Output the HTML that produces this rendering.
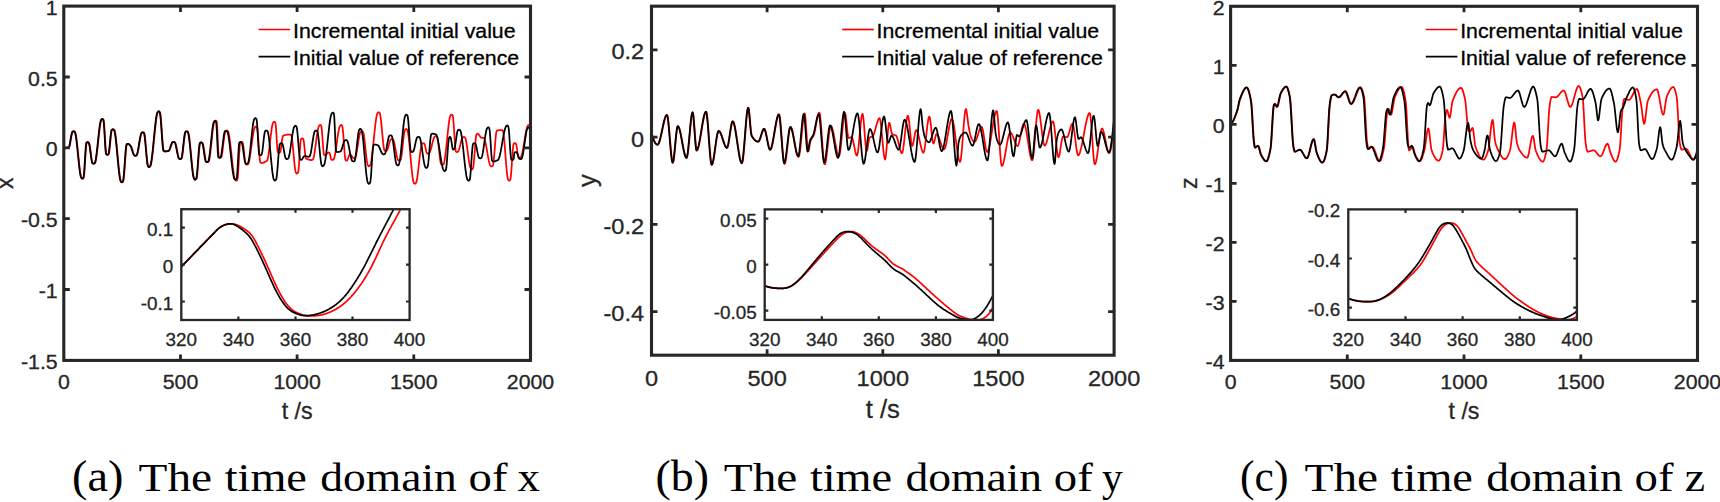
<!DOCTYPE html>
<html lang="en"><head><meta charset="utf-8">
<style>html,body{margin:0;padding:0;background:#fff;overflow:hidden}svg{display:block}.t{font-family:"Liberation Sans",sans-serif;fill:#262626;stroke:#262626;stroke-width:0.3px}.c{font-family:"Liberation Serif",serif;fill:#000}</style></head><body>
<svg width="1720" height="502" viewBox="0 0 1720 502">
<rect width="1720" height="502" fill="#fff"/>
<clipPath id="clipp1"><rect x="63.8" y="6.1" width="466.7" height="354.3"/></clipPath>
<g clip-path="url(#clipp1)" fill="none" stroke-width="1.75" stroke-linejoin="round" stroke-linecap="butt">
<path d="M63.8,147.8 64.3,147.8 64.8,147.8 65.3,147.8 65.8,147.8 66.3,147.8 66.8,147.7 67.3,147.7 67.8,147.7 68.3,147.6 68.8,147.6 69.3,147.1 69.8,145.4 70.3,142.9 70.8,139.9 71.3,137.0 71.8,134.3 72.3,132.4 72.8,131.7 73.3,131.4 73.8,131.3 74.3,131.4 74.8,131.7 75.3,132.4 75.8,134.4 76.3,137.3 76.8,141.1 77.3,145.5 77.8,150.2 78.3,155.2 78.8,160.1 79.3,164.9 79.8,169.2 80.3,172.8 80.8,175.6 81.3,177.4 81.8,178.1 82.3,178.6 82.8,178.7 83.3,178.3 83.8,177.5 84.3,173.6 84.8,166.6 85.3,158.2 85.8,150.3 86.3,144.5 86.8,142.6 87.3,142.3 87.8,142.2 88.3,142.3 88.8,142.6 89.3,143.5 89.8,145.8 90.3,149.1 90.8,152.9 91.3,156.8 91.8,160.1 92.3,162.4 92.8,163.3 93.3,163.6 93.8,163.7 94.3,163.6 94.8,163.3 95.3,162.6 95.8,160.7 96.3,157.8 96.8,154.2 97.3,150.0 97.8,145.4 98.3,140.7 98.8,135.9 99.3,131.5 99.8,127.4 100.3,124.0 100.8,121.5 101.3,120.0 101.8,119.4 102.3,118.9 102.8,119.0 103.3,119.4 103.8,120.6 104.3,125.7 104.8,133.8 105.3,142.7 105.8,150.2 106.3,154.2 106.8,154.6 107.3,154.8 107.8,154.8 108.3,154.5 108.8,154.0 109.3,151.4 109.8,147.2 110.3,142.1 110.8,136.9 111.3,132.7 111.8,130.1 112.3,129.6 112.8,129.3 113.3,129.3 113.8,129.5 114.3,129.8 114.8,131.1 115.3,133.7 115.8,137.2 116.3,141.5 116.8,146.4 117.3,151.7 117.8,157.2 118.3,162.5 118.8,167.6 119.3,172.2 119.8,176.1 120.3,179.1 120.8,181.0 121.3,181.7 121.8,182.2 122.3,182.3 122.8,181.9 123.3,181.1 123.8,178.2 124.3,172.9 124.8,166.1 125.3,158.9 125.8,152.2 126.3,147.0 126.8,144.4 127.3,144.0 127.8,143.8 128.3,143.8 128.8,144.0 129.3,144.4 129.8,144.9 130.3,145.4 130.8,146.0 131.3,146.9 131.8,148.2 132.3,149.8 132.8,151.4 133.3,153.0 133.8,154.3 134.3,155.2 134.8,155.5 135.3,155.8 135.8,155.8 136.3,155.6 136.8,155.3 137.3,154.3 137.8,152.4 138.3,150.0 138.8,147.1 139.3,144.1 139.8,141.0 140.3,138.1 140.8,135.7 141.3,133.8 141.8,132.8 142.3,132.5 142.8,132.3 143.3,132.3 143.8,132.6 144.3,133.1 144.8,135.5 145.3,139.7 145.8,145.0 146.3,150.9 146.8,156.5 147.3,161.4 147.8,164.8 148.3,166.3 148.8,166.9 149.3,167.1 149.8,166.8 150.3,166.3 150.8,165.3 151.3,163.2 151.8,160.2 152.3,156.4 152.8,152.1 153.3,147.3 153.8,142.3 154.3,137.1 154.8,132.1 155.3,127.2 155.8,122.8 156.3,118.9 156.8,115.8 157.3,113.5 157.8,112.2 158.3,111.6 158.8,111.3 159.3,111.5 159.8,112.0 160.3,113.3 160.8,117.3 161.3,123.3 161.8,130.5 162.3,137.7 162.8,144.2 163.3,148.9 163.8,151.0 164.3,151.2 164.8,151.4 165.3,151.4 165.8,151.4 166.3,151.3 166.8,151.3 167.3,151.2 167.8,151.1 168.3,151.0 168.8,150.8 169.3,150.5 169.8,149.5 170.3,148.2 170.8,146.7 171.3,145.1 171.8,143.7 172.3,142.7 172.8,142.2 173.3,141.9 173.8,141.8 174.3,141.9 174.8,142.2 175.3,142.8 175.8,144.3 176.3,146.4 176.8,148.9 177.3,151.5 177.8,154.0 178.3,156.2 178.8,157.8 179.3,158.7 179.8,158.9 180.3,159.1 180.8,159.0 181.3,158.8 181.8,158.1 182.3,155.8 182.8,152.3 183.3,148.0 183.8,143.3 184.3,138.9 184.8,135.2 185.3,132.6 185.8,131.7 186.3,131.4 186.8,131.3 187.3,131.4 187.8,131.7 188.3,132.5 188.8,134.6 189.3,137.7 189.8,141.8 190.3,146.5 190.8,151.6 191.3,156.8 191.8,162.0 192.3,166.9 192.8,171.2 193.3,174.8 193.8,177.4 194.3,178.8 194.8,179.4 195.3,179.7 195.8,179.5 196.3,179.0 196.8,177.8 197.3,174.0 197.8,168.3 198.3,161.7 198.8,154.9 199.3,148.9 199.8,144.6 200.3,142.8 200.8,142.5 201.3,142.4 201.8,142.5 202.3,142.7 202.8,143.4 203.3,145.3 203.8,148.2 204.3,151.5 204.8,155.0 205.3,158.2 205.8,160.5 206.3,161.8 206.8,162.1 207.3,162.2 207.8,162.2 208.3,161.9 208.8,161.4 209.3,159.7 209.8,156.9 210.3,153.1 210.8,148.8 211.3,144.0 211.8,139.1 212.3,134.4 212.8,130.0 213.3,126.2 213.8,123.4 214.3,121.7 214.8,121.0 215.3,120.5 215.8,120.5 216.3,120.9 216.8,122.1 217.3,129.2 217.8,140.3 218.3,151.1 218.8,157.2 219.3,157.7 219.8,157.9 220.3,157.9 220.8,157.6 221.3,157.2 221.8,155.4 222.3,152.5 222.8,148.7 223.3,144.5 223.8,140.3 224.3,136.4 224.8,133.3 225.3,131.4 225.8,130.8 226.3,130.5 226.8,130.5 227.3,130.6 227.8,130.9 228.3,131.9 228.8,133.8 229.3,136.5 229.8,140.0 230.3,144.0 230.8,148.4 231.3,153.0 231.8,157.7 232.3,162.3 232.8,166.7 233.3,170.7 233.8,174.2 234.3,177.0 234.8,179.0 235.3,179.9 235.8,180.5 236.3,180.8 236.8,180.5 237.3,179.9 237.8,177.4 238.3,170.5 238.8,161.3 239.3,152.0 239.8,144.9 240.3,142.2 240.8,141.9 241.3,141.8 241.8,141.9 242.3,142.1 242.8,143.0 243.3,145.9 243.8,150.1 244.3,154.8 244.8,159.3 245.3,162.6 245.8,164.2 246.3,164.4 246.8,164.6 247.3,164.5 247.8,164.3 248.3,163.8 248.8,162.5 249.3,160.4 249.8,157.6 250.3,154.4 250.8,150.9 251.3,147.1 251.8,143.3 252.3,139.6 252.8,136.1 253.3,133.0 253.8,130.4 254.3,128.5 254.8,127.5 255.3,126.9 255.8,126.5 256.3,126.7 256.8,127.2 257.3,128.6 257.8,132.9 258.3,139.4 258.8,146.8 259.3,153.9 259.8,159.5 260.3,162.4 260.8,162.8 261.3,163.0 261.8,163.0 262.3,162.9 262.8,162.9 263.3,162.7 263.8,162.6 264.3,162.4 264.8,162.1 265.3,161.8 265.8,161.5 266.3,161.2 266.8,160.9 267.3,160.2 267.8,158.6 268.3,155.9 268.8,152.5 269.3,148.6 269.8,144.3 270.3,139.9 270.8,135.5 271.3,131.5 271.8,128.0 272.3,125.2 272.8,123.3 273.3,122.4 273.8,121.9 274.3,121.7 274.8,122.0 275.3,122.7 275.8,125.9 276.3,132.8 276.8,141.0 277.3,148.2 277.8,152.2 278.3,152.6 278.8,152.8 279.3,152.8 279.8,152.5 280.3,152.0 280.8,149.7 281.3,146.0 281.8,141.9 282.3,138.3 282.8,136.1 283.3,135.7 283.8,135.5 284.3,135.3 284.8,135.2 285.3,135.0 285.8,134.9 286.3,134.8 286.8,134.7 287.3,134.7 287.8,134.6 288.3,134.6 288.8,134.5 289.3,134.5 289.8,134.5 290.3,134.5 290.8,134.8 291.3,135.2 291.8,137.3 292.3,141.0 292.8,145.7 293.3,151.1 293.8,156.7 294.3,162.1 294.8,166.8 295.3,170.4 295.8,172.4 296.3,173.1 296.8,173.5 297.3,173.4 297.8,172.9 298.3,171.9 298.8,167.1 299.3,159.6 299.8,151.3 300.3,143.9 300.8,139.4 301.3,138.7 301.8,138.4 302.3,138.4 302.8,138.6 303.3,139.0 303.8,141.4 304.3,145.7 304.8,150.7 305.3,155.3 305.8,158.1 306.3,158.7 306.8,158.9 307.3,159.1 307.8,159.3 308.3,159.5 308.8,159.6 309.3,159.8 309.8,159.9 310.3,159.9 310.8,160.0 311.3,160.0 311.8,160.0 312.3,159.8 312.8,159.6 313.3,158.7 313.8,156.9 314.3,154.4 314.8,151.3 315.3,147.7 315.8,144.0 316.3,140.1 316.8,136.4 317.3,133.0 317.8,130.0 318.3,127.7 318.8,126.2 319.3,125.5 319.8,125.0 320.3,124.9 320.8,125.3 321.3,126.1 321.8,129.5 322.3,135.7 322.8,142.9 323.3,149.5 323.8,154.0 324.3,155.2 324.8,155.4 325.3,155.5 325.8,155.2 326.3,154.7 326.8,154.0 327.3,153.3 327.8,152.8 328.3,152.5 328.8,152.6 329.3,152.8 329.8,153.6 330.3,155.7 330.8,158.2 331.3,159.6 331.8,159.8 332.3,160.0 332.8,159.9 333.3,159.7 333.8,159.2 334.3,157.9 334.8,155.8 335.3,153.1 335.8,149.9 336.3,146.5 336.8,142.9 337.3,139.2 337.8,135.7 338.3,132.5 338.8,129.8 339.3,127.6 339.8,126.2 340.3,125.5 340.8,125.0 341.3,124.9 341.8,125.3 342.3,126.1 342.8,129.2 343.3,134.9 343.8,141.9 344.3,149.1 344.8,155.3 345.3,159.4 345.8,160.4 346.3,160.6 346.8,160.7 347.3,160.1 347.8,159.0 348.3,157.5 348.8,156.1 349.3,155.0 349.8,154.4 350.3,154.5 350.8,154.9 351.3,155.5 351.8,156.2 352.3,156.9 352.8,157.6 353.3,158.1 353.8,158.3 354.3,158.2 354.8,158.0 355.3,157.5 355.8,156.1 356.3,154.1 356.8,151.4 357.3,148.4 357.8,145.1 358.3,141.9 358.8,138.8 359.3,136.0 359.8,133.8 360.3,132.3 360.8,131.7 361.3,131.4 361.8,131.3 362.3,131.4 362.8,131.7 363.3,132.5 363.8,134.8 364.3,138.3 364.8,142.5 365.3,147.2 365.8,152.0 366.3,156.5 366.8,160.4 367.3,163.4 367.8,165.2 368.3,165.8 368.8,166.3 369.3,166.2 369.8,165.7 370.3,165.0 370.8,163.4 371.3,160.8 371.8,157.4 372.3,153.4 372.8,149.0 373.3,144.2 373.8,139.3 374.3,134.3 374.8,129.5 375.3,125.1 375.8,121.1 376.3,117.7 376.8,115.1 377.3,113.5 377.8,112.8 378.3,112.3 378.8,112.2 379.3,112.6 379.8,113.3 380.3,115.3 380.8,118.7 381.3,123.2 381.8,128.4 382.3,133.9 382.8,139.2 383.3,143.9 383.8,147.7 384.3,150.0 384.8,150.7 385.3,150.9 385.8,151.0 386.3,150.8 386.8,150.6 387.3,149.9 387.8,148.6 388.3,146.9 388.8,145.0 389.3,143.1 389.8,141.4 390.3,140.1 390.8,139.4 391.3,139.2 391.8,139.0 392.3,139.1 392.8,139.3 393.3,139.8 393.8,141.1 394.3,143.0 394.8,145.4 395.3,148.2 395.8,151.0 396.3,153.7 396.8,156.2 397.3,158.3 397.8,159.7 398.3,160.3 398.8,160.6 399.3,160.7 399.8,160.6 400.3,160.3 400.8,159.4 401.3,157.0 401.8,153.5 402.3,149.2 402.8,144.5 403.3,139.9 403.8,135.7 404.3,132.4 404.8,130.3 405.3,129.5 405.8,129.0 406.3,128.9 406.8,129.4 407.3,130.0 407.8,131.7 408.3,134.6 408.8,138.5 409.3,143.2 409.8,148.5 410.3,154.1 410.8,159.8 411.3,165.3 411.8,170.5 412.3,175.1 412.8,178.8 413.3,181.5 413.8,182.9 414.3,183.5 414.8,183.8 415.3,183.6 415.8,183.1 416.3,182.2 416.8,180.3 417.3,177.4 417.8,173.7 418.3,169.5 418.8,165.0 419.3,160.5 419.8,156.0 420.3,152.0 420.8,148.5 421.3,145.8 421.8,144.1 422.3,143.5 422.8,143.3 423.3,143.2 423.8,143.4 424.3,143.6 424.8,144.7 425.3,146.9 425.8,149.4 426.3,151.7 426.8,153.0 427.3,153.4 427.8,153.6 428.3,153.6 428.8,153.3 429.3,153.0 429.8,152.2 430.3,150.9 430.8,149.3 431.3,147.5 431.8,145.5 432.3,143.4 432.8,141.5 433.3,139.7 433.8,138.2 434.3,137.1 434.8,136.5 435.3,136.3 435.8,136.1 436.3,136.2 436.8,136.4 437.3,137.1 437.8,139.5 438.3,143.1 438.8,147.6 439.3,152.4 439.8,156.9 440.3,160.8 440.8,163.4 441.3,164.4 441.8,164.7 442.3,164.8 442.8,164.7 443.3,164.4 443.8,163.7 444.3,161.9 444.8,159.1 445.3,155.6 445.8,151.4 446.3,146.8 446.8,142.0 447.3,137.1 447.8,132.3 448.3,127.8 448.8,123.7 449.3,120.2 449.8,117.6 450.3,115.9 450.8,115.2 451.3,114.7 451.8,114.6 452.3,115.0 452.8,115.8 453.3,119.4 453.8,125.9 454.3,133.8 454.8,141.7 455.3,148.1 455.8,151.4 456.3,151.8 456.8,152.0 457.3,152.0 457.8,151.7 458.3,151.4 458.8,150.4 459.3,148.9 459.8,147.0 460.3,144.9 460.8,142.7 461.3,140.7 461.8,139.0 462.3,137.8 462.8,137.3 463.3,137.0 463.8,136.9 464.3,137.0 464.8,137.3 465.3,138.0 465.8,139.6 466.3,142.1 466.8,145.2 467.3,148.7 467.8,152.5 468.3,156.3 468.8,159.9 469.3,163.1 469.8,165.8 470.3,167.7 470.8,168.7 471.3,169.2 471.8,169.5 472.3,169.3 472.8,168.7 473.3,167.0 473.8,162.8 474.3,157.0 474.8,150.4 475.3,143.9 475.8,138.4 476.3,134.9 476.8,134.0 477.3,133.8 477.8,133.7 478.3,134.0 478.8,134.5 479.3,135.2 479.8,136.0 480.3,136.8 480.8,137.4 481.3,137.7 481.8,137.7 482.3,137.8 482.8,137.8 483.3,137.9 483.8,137.9 484.3,138.5 484.8,139.8 485.3,141.7 485.8,144.0 486.3,146.6 486.8,149.5 487.3,152.4 487.8,155.3 488.3,158.1 488.8,160.7 489.3,162.8 489.8,164.5 490.3,165.6 490.8,166.1 491.3,166.3 491.8,166.4 492.3,166.2 492.8,166.0 493.3,164.2 493.8,160.1 494.3,154.5 494.8,148.1 495.3,141.7 495.8,136.1 496.3,132.2 496.8,130.6 497.3,130.5 497.8,130.4 498.3,130.3 498.8,130.2 499.3,130.1 499.8,130.1 500.3,130.0 500.8,130.0 501.3,130.0 501.8,130.0 502.3,130.2 502.8,130.6 503.3,132.4 503.8,136.0 504.3,140.9 504.8,146.9 505.3,153.3 505.8,159.9 506.3,166.2 506.8,171.7 507.3,176.1 507.8,179.0 508.3,180.0 508.8,180.5 509.3,180.7 509.8,180.4 510.3,179.8 510.8,177.2 511.3,171.7 511.8,164.5 512.3,156.8 512.8,150.0 513.3,145.2 513.8,143.6 514.3,143.3 514.8,143.2 515.3,143.3 515.8,143.6 516.3,144.7 516.8,147.5 517.3,151.1 517.8,154.6 518.3,156.8 518.8,157.3 519.3,157.6 519.8,157.6 520.3,157.4 520.8,157.1 521.3,156.3 521.8,154.8 522.3,152.9 522.8,150.5 523.3,147.8 523.8,144.9 524.3,141.9 524.8,138.8 525.3,135.8 525.8,133.0 526.3,130.5 526.8,128.4 527.3,126.7 527.8,125.7 528.3,125.2 528.8,125.0 529.3,124.9 529.8,125.7 530.3,127.2 530.5,128.0" stroke="#ff0000"/>
<path d="M63.8,147.8 64.3,147.8 64.8,147.8 65.3,147.8 65.8,147.8 66.3,147.7 66.8,147.7 67.3,147.7 67.8,147.7 68.3,147.6 68.8,147.5 69.3,146.2 69.8,144.0 70.3,141.1 70.8,138.1 71.3,135.3 71.8,133.1 72.3,131.8 72.8,131.5 73.3,131.3 73.8,131.3 74.3,131.6 74.8,132.0 75.3,133.5 75.8,136.0 76.3,139.5 76.8,143.7 77.3,148.3 77.8,153.2 78.3,158.2 78.8,163.0 79.3,167.5 79.8,171.4 80.3,174.6 80.8,176.8 81.3,177.9 81.8,178.5 82.3,178.7 82.8,178.5 83.3,177.9 83.8,175.6 84.3,169.7 84.8,161.6 85.3,153.3 85.8,146.4 86.3,142.8 86.8,142.4 87.3,142.2 87.8,142.2 88.3,142.5 88.8,142.9 89.3,144.7 89.8,147.7 90.3,151.4 90.8,155.3 91.3,158.9 91.8,161.6 92.3,163.1 92.8,163.5 93.3,163.7 93.8,163.7 94.3,163.4 94.8,163.0 95.3,161.6 95.8,159.1 96.3,155.7 96.8,151.7 97.3,147.3 97.8,142.6 98.3,137.8 98.8,133.2 99.3,129.0 99.8,125.3 100.3,122.4 100.8,120.5 101.3,119.6 101.8,119.1 102.3,118.9 102.8,119.2 103.3,119.9 103.8,123.2 104.3,130.3 104.8,139.1 105.3,147.5 105.8,153.1 106.3,154.5 106.8,154.7 107.3,154.8 107.8,154.6 108.3,154.4 108.8,152.7 109.3,149.0 109.8,144.1 110.3,138.9 110.8,134.2 111.3,130.9 111.8,129.7 112.3,129.4 112.8,129.3 113.3,129.4 113.8,129.7 114.3,130.5 114.8,132.5 115.3,135.7 115.8,139.7 116.3,144.4 116.8,149.6 117.3,155.0 117.8,160.4 118.3,165.6 118.8,170.5 119.3,174.7 119.8,178.1 120.3,180.4 120.8,181.5 121.3,182.1 121.8,182.3 122.3,182.1 122.8,181.5 123.3,179.7 123.8,175.2 124.3,168.9 124.8,161.7 125.3,154.7 125.8,148.8 126.3,145.1 126.8,144.1 127.3,143.9 127.8,143.8 128.3,143.9 128.8,144.2 129.3,144.7 129.8,145.2 130.3,145.8 130.8,146.5 131.3,147.6 131.8,149.1 132.3,150.8 132.8,152.4 133.3,153.8 133.8,154.9 134.3,155.4 134.8,155.7 135.3,155.8 135.8,155.7 136.3,155.4 136.8,154.8 137.3,153.2 137.8,151.0 138.3,148.3 138.8,145.3 139.3,142.2 139.8,139.2 140.3,136.6 140.8,134.5 141.3,133.1 141.8,132.6 142.3,132.4 142.8,132.3 143.3,132.5 143.8,132.8 144.3,134.3 144.8,137.9 145.3,142.8 145.8,148.5 146.3,154.3 146.8,159.6 147.3,163.7 147.8,166.0 148.3,166.7 148.8,167.1 149.3,167.0 149.8,166.5 150.3,165.8 150.8,164.1 151.3,161.5 151.8,158.0 152.3,153.9 152.8,149.3 153.3,144.3 153.8,139.2 154.3,134.1 154.8,129.1 155.3,124.5 155.8,120.4 156.3,116.9 156.8,114.3 157.3,112.6 157.8,111.9 158.3,111.4 158.8,111.3 159.3,111.7 159.8,112.5 160.3,115.4 160.8,120.7 161.3,127.5 161.8,134.9 162.3,141.8 162.8,147.3 163.3,150.5 163.8,151.1 164.3,151.4 164.8,151.4 165.3,151.4 165.8,151.3 166.3,151.3 166.8,151.2 167.3,151.1 167.8,151.0 168.3,150.9 168.8,150.7 169.3,150.0 169.8,148.8 170.3,147.3 170.8,145.7 171.3,144.3 171.8,143.1 172.3,142.3 172.8,142.0 173.3,141.8 173.8,141.8 174.3,142.1 174.8,142.5 175.3,143.6 175.8,145.5 176.3,147.9 176.8,150.5 177.3,153.0 177.8,155.4 178.3,157.3 178.8,158.4 179.3,158.8 179.8,159.1 180.3,159.1 180.8,158.9 181.3,158.5 181.8,156.9 182.3,153.8 182.8,149.8 183.3,145.2 183.8,140.6 184.3,136.6 184.8,133.5 185.3,131.9 185.8,131.5 186.3,131.3 186.8,131.3 187.3,131.6 187.8,132.0 188.3,133.6 188.8,136.4 189.3,140.1 189.8,144.6 190.3,149.5 190.8,154.7 191.3,160.0 191.8,165.0 192.3,169.6 192.8,173.5 193.3,176.5 193.8,178.4 194.3,179.1 194.8,179.6 195.3,179.7 195.8,179.3 196.3,178.5 196.8,175.7 197.3,170.5 197.8,164.0 198.3,157.0 198.8,150.5 199.3,145.5 199.8,143.0 200.3,142.6 200.8,142.4 201.3,142.4 201.8,142.7 202.3,143.1 202.8,144.8 203.3,147.5 203.8,150.8 204.3,154.4 204.8,157.6 205.3,160.2 205.8,161.6 206.3,161.9 206.8,162.1 207.3,162.1 207.8,161.8 208.3,161.4 208.8,159.8 209.3,157.0 209.8,153.3 210.3,148.9 210.8,144.2 211.3,139.3 211.8,134.5 212.3,130.2 212.8,126.4 213.3,123.6 213.8,122.0 214.3,121.4 214.8,120.9 215.3,121.0 215.8,121.4 216.3,122.9 216.8,130.7 217.3,142.1 217.8,152.5 218.3,157.2 218.8,157.6 219.3,157.7 219.8,157.6 220.3,157.4 220.8,156.7 221.3,154.7 221.8,151.6 222.3,147.7 222.8,143.5 223.3,139.3 223.8,135.7 224.3,132.9 224.8,131.5 225.3,131.1 225.8,130.9 226.3,130.9 226.8,131.2 227.3,131.6 227.8,132.9 228.3,135.1 228.8,138.1 229.3,141.8 229.8,145.9 230.3,150.3 230.8,154.9 231.3,159.5 231.8,164.0 232.3,168.1 232.8,171.8 233.3,174.9 233.8,177.2 234.3,178.6 234.8,179.2 235.3,179.7 235.8,179.6 236.3,179.2 236.8,178.0 237.3,172.6 237.8,164.1 238.3,154.8 238.8,146.8 239.3,142.6 239.8,142.2 240.3,142.0 240.8,142.0 241.3,142.3 241.8,142.7 242.3,144.4 242.8,147.2 243.3,150.7 243.8,154.5 244.3,158.0 244.8,161.0 245.3,163.0 245.8,163.6 246.3,163.8 246.8,163.9 247.3,163.7 247.8,163.4 248.3,162.5 248.8,160.3 249.3,157.2 249.8,153.4 250.3,149.0 250.8,144.2 251.3,139.3 251.8,134.6 252.3,130.0 252.8,126.0 253.3,122.7 253.8,120.3 254.3,119.0 254.8,118.4 255.3,118.1 255.8,118.3 256.3,118.8 256.8,120.5 257.3,126.6 257.8,135.3 258.3,144.4 258.8,151.6 259.3,154.8 259.8,155.0 260.3,155.2 260.8,155.1 261.3,154.9 261.8,154.2 262.3,151.7 262.8,147.8 263.3,143.3 263.8,138.7 264.3,134.7 264.8,131.9 265.3,130.9 265.8,130.6 266.3,130.5 266.8,130.6 267.3,130.9 267.8,131.7 268.3,133.8 268.8,137.0 269.3,141.1 269.8,145.8 270.3,151.0 270.8,156.4 271.3,161.7 271.8,166.7 272.3,171.3 272.8,175.0 273.3,177.9 273.8,179.5 274.3,180.1 274.8,180.6 275.3,180.5 275.8,180.0 276.3,179.1 276.8,176.0 277.3,170.9 277.8,164.6 278.3,158.0 278.8,151.8 279.3,146.9 279.8,144.0 280.3,143.5 280.8,143.2 281.3,143.2 281.8,143.4 282.3,143.7 282.8,144.9 283.3,147.0 283.8,149.7 284.3,152.6 284.8,155.3 285.3,157.4 285.8,158.6 286.3,158.9 286.8,159.1 287.3,159.1 287.8,158.8 288.3,158.4 288.8,157.3 289.3,155.3 289.8,152.6 290.3,149.5 290.8,146.0 291.3,142.4 291.8,138.8 292.3,135.4 292.8,132.3 293.3,129.7 293.8,127.8 294.3,126.6 294.8,126.1 295.3,125.7 295.8,125.9 296.3,126.4 296.8,127.6 297.3,131.2 297.8,136.5 298.3,142.7 298.8,149.0 299.3,154.5 299.8,158.2 300.3,159.5 300.8,159.8 301.3,159.9 301.8,159.6 302.3,159.0 302.8,158.1 303.3,157.2 303.8,156.5 304.3,156.0 304.8,156.0 305.3,156.1 305.8,156.2 306.3,156.3 306.8,156.5 307.3,156.6 307.8,156.7 308.3,156.8 308.8,156.8 309.3,156.5 309.8,156.1 310.3,154.9 310.8,152.8 311.3,150.1 311.8,147.0 312.3,143.6 312.8,140.3 313.3,137.2 313.8,134.5 314.3,132.4 314.8,131.2 315.3,130.8 315.8,130.5 316.3,130.5 316.8,130.7 317.3,131.1 317.8,132.8 318.3,136.3 318.8,140.9 319.3,146.1 319.8,151.6 320.3,156.7 320.8,161.1 321.3,164.2 321.8,165.5 322.3,166.1 322.8,166.3 323.3,166.0 323.8,165.5 324.3,164.5 324.8,162.7 325.3,160.0 325.8,156.7 326.3,152.8 326.8,148.6 327.3,144.1 327.8,139.5 328.3,134.8 328.8,130.3 329.3,126.1 329.8,122.2 330.3,118.9 330.8,116.2 331.3,114.4 331.8,113.4 332.3,112.9 332.8,112.6 333.3,112.8 333.8,113.4 334.3,117.2 334.8,127.7 335.3,140.2 335.8,149.5 336.3,151.7 336.8,151.9 337.3,152.0 337.8,152.0 338.3,151.9 338.8,151.9 339.3,151.8 339.8,151.7 340.3,151.5 340.8,151.2 341.3,150.2 341.8,148.9 342.3,147.2 342.8,145.5 343.3,143.7 343.8,142.2 344.3,141.1 344.8,140.4 345.3,140.2 345.8,140.0 346.3,140.1 346.8,140.3 347.3,140.8 347.8,142.0 348.3,143.9 348.8,146.2 349.3,148.8 349.8,151.6 350.3,154.3 350.8,156.7 351.3,158.8 351.8,160.3 352.3,161.1 352.8,161.3 353.3,161.5 353.8,161.4 354.3,161.2 354.8,160.5 355.3,158.4 355.8,155.1 356.3,150.9 356.8,146.3 357.3,141.6 357.8,137.2 358.3,133.5 358.8,130.9 359.3,129.7 359.8,129.1 360.3,128.9 360.8,129.1 361.3,129.7 361.8,130.9 362.3,133.4 362.8,137.0 363.3,141.5 363.8,146.7 364.3,152.3 364.8,158.1 365.3,163.8 365.8,169.2 366.3,174.0 366.8,178.0 367.3,181.0 367.8,182.7 368.3,183.3 368.8,183.8 369.3,183.7 369.8,183.2 370.3,182.2 370.8,178.2 371.3,171.5 371.8,163.6 372.3,155.8 372.8,149.3 373.3,145.5 373.8,144.9 374.3,144.6 374.8,144.6 375.3,144.6 375.8,144.7 376.3,144.8 376.8,144.9 377.3,145.0 377.8,145.2 378.3,145.6 378.8,146.3 379.3,147.3 379.8,148.4 380.3,149.7 380.8,150.9 381.3,152.0 381.8,153.0 382.3,153.7 382.8,154.1 383.3,154.3 383.8,154.4 384.3,154.2 384.8,154.0 385.3,153.1 385.8,151.5 386.3,149.2 386.8,146.5 387.3,143.7 387.8,141.0 388.3,138.7 388.8,136.8 389.3,135.8 389.8,135.5 390.3,135.3 390.8,135.3 391.3,135.6 391.8,136.0 392.3,137.5 392.8,140.1 393.3,143.5 393.8,147.3 394.3,151.4 394.8,155.4 395.3,159.0 395.8,161.9 396.3,163.9 396.8,164.8 397.3,165.3 397.8,165.5 398.3,165.2 398.8,164.6 399.3,163.2 399.8,160.7 400.3,157.1 400.8,152.8 401.3,147.9 401.8,142.7 402.3,137.4 402.8,132.2 403.3,127.3 403.8,123.0 404.3,119.4 404.8,116.9 405.3,115.5 405.8,114.9 406.3,114.6 406.8,114.8 407.3,115.3 407.8,116.7 408.3,121.1 408.8,127.8 409.3,135.4 409.8,142.7 410.3,148.4 410.8,151.4 411.3,151.8 411.8,152.0 412.3,152.0 412.8,151.7 413.3,151.3 413.8,150.2 414.3,148.5 414.8,146.3 415.3,143.9 415.8,141.6 416.3,139.5 416.8,138.0 417.3,137.2 417.8,137.0 418.3,136.8 418.8,136.9 419.3,137.1 419.8,137.6 420.3,139.1 420.8,141.3 421.3,144.1 421.8,147.4 422.3,151.0 422.8,154.6 423.3,158.1 423.8,161.2 424.3,163.9 424.8,165.9 425.3,167.1 425.8,167.6 426.3,168.0 426.8,167.8 427.3,167.3 427.8,166.1 428.3,162.7 428.8,157.6 429.3,151.5 429.8,145.4 430.3,139.9 430.8,135.9 431.3,134.1 431.8,133.9 432.3,133.7 432.8,133.7 433.3,133.8 433.8,133.8 434.3,134.0 434.8,134.1 435.3,134.2 435.8,134.4 436.3,134.8 436.8,135.8 437.3,137.4 437.8,139.5 438.3,142.1 438.8,145.1 439.3,148.2 439.8,151.5 440.3,154.8 440.8,158.1 441.3,161.1 441.8,163.9 442.3,166.3 442.8,168.3 443.3,169.6 443.8,170.4 444.3,170.9 444.8,171.1 445.3,170.8 445.8,170.2 446.3,167.8 446.8,162.8 447.3,156.2 447.8,149.3 448.3,143.1 448.8,138.8 449.3,137.3 449.8,137.0 450.3,136.9 450.8,138.0 451.3,140.6 451.8,143.9 452.3,147.1 452.8,149.2 453.3,149.6 453.8,149.4 454.3,149.0 454.8,147.6 455.3,144.9 455.8,141.5 456.3,137.8 456.8,134.4 457.3,131.7 457.8,130.3 458.3,129.9 458.8,129.7 459.3,129.7 459.8,130.0 460.3,130.4 460.8,131.7 461.3,134.0 461.8,137.1 462.3,140.8 462.8,145.0 463.3,149.6 463.8,154.3 464.3,159.1 464.8,163.8 465.3,168.1 465.8,172.0 466.3,175.3 466.8,177.8 467.3,179.4 467.8,180.1 468.3,180.6 468.8,180.7 469.3,180.3 469.8,179.5 470.3,176.3 470.8,170.3 471.3,162.9 471.8,155.4 472.3,148.8 472.8,144.6 473.3,143.5 473.8,143.3 474.3,143.2 474.8,143.4 475.3,143.6 475.8,144.5 476.3,146.3 476.8,148.7 477.3,151.3 477.8,153.9 478.3,156.1 478.8,157.5 479.3,158.1 479.8,158.3 480.3,158.4 480.8,158.2 481.3,158.0 481.8,157.1 482.3,155.4 482.8,152.9 483.3,149.8 483.8,146.4 484.3,142.8 484.8,139.3 485.3,135.9 485.8,132.9 486.3,130.5 486.8,128.8 487.3,128.0 487.8,127.5 488.3,127.3 488.8,127.6 489.3,128.2 489.8,131.3 490.3,137.7 490.8,145.7 491.3,153.5 491.8,159.2 492.3,161.1 492.8,161.4 493.3,161.5 493.8,161.5 494.3,161.4 494.8,161.3 495.3,161.2 495.8,161.0 496.3,160.8 496.8,160.6 497.3,160.4 497.8,160.1 498.3,159.7 498.8,158.8 499.3,157.4 499.8,155.5 500.3,153.3 500.8,150.8 501.3,148.1 501.8,145.3 502.3,142.4 502.8,139.5 503.3,136.8 503.8,134.1 504.3,131.8 504.8,129.7 505.3,128.0 505.8,126.8 506.3,126.1 506.8,125.6 507.3,125.4 507.8,125.7 508.3,126.4 508.8,129.3 509.3,135.4 509.8,143.2 510.3,151.0 510.8,156.9 511.3,159.6 511.8,159.8 512.3,160.0 512.8,159.9 513.3,159.7 513.8,158.0 514.3,153.3 514.8,152.2 515.3,152.0 515.8,152.0 516.3,152.2 516.8,152.5 517.3,153.5 517.8,154.9 518.3,156.6 518.8,158.0 519.3,158.8 519.8,159.0 520.3,159.2 520.8,159.1 521.3,158.9 521.8,158.4 522.3,157.0 522.8,154.9 523.3,152.1 523.8,148.9 524.3,145.4 524.8,141.8 525.3,138.3 525.8,135.0 526.3,132.2 526.8,129.9 527.3,128.3 527.8,127.7 528.3,127.4 528.8,127.3 529.3,128.0 529.8,129.9 530.3,132.7 530.5,134.0" stroke="#000000"/>
</g>
<g id="plot1">
<path d="M180.5,360.4v-6.0M180.5,6.1v6.0M297.1,360.4v-6.0M297.1,6.1v6.0M413.8,360.4v-6.0M413.8,6.1v6.0M63.8,77.0h6.0M530.5,77.0h-6.0M63.8,147.8h6.0M530.5,147.8h-6.0M63.8,218.7h6.0M530.5,218.7h-6.0M63.8,289.5h6.0M530.5,289.5h-6.0" stroke="#262626" stroke-width="2.8" fill="none"/>
<rect x="63.8" y="6.1" width="466.7" height="354.3" fill="none" stroke="#262626" stroke-width="3.1"/>
<text class="t" transform="translate(63.8,388.8) scale(1.05,1)" font-size="20.3px" text-anchor="middle">0</text>
<text class="t" transform="translate(180.5,388.8) scale(1.05,1)" font-size="20.3px" text-anchor="middle">500</text>
<text class="t" transform="translate(297.1,388.8) scale(1.05,1)" font-size="20.3px" text-anchor="middle">1000</text>
<text class="t" transform="translate(413.8,388.8) scale(1.05,1)" font-size="20.3px" text-anchor="middle">1500</text>
<text class="t" transform="translate(530.5,388.8) scale(1.05,1)" font-size="20.3px" text-anchor="middle">2000</text>
<text class="t" transform="translate(57.7,14.7) scale(1.05,1)" font-size="20.3px" text-anchor="end">1</text>
<text class="t" transform="translate(57.7,85.6) scale(1.05,1)" font-size="20.3px" text-anchor="end">0.5</text>
<text class="t" transform="translate(57.7,156.4) scale(1.05,1)" font-size="20.3px" text-anchor="end">0</text>
<text class="t" transform="translate(57.7,227.3) scale(1.05,1)" font-size="20.3px" text-anchor="end">-0.5</text>
<text class="t" transform="translate(57.7,298.1) scale(1.05,1)" font-size="20.3px" text-anchor="end">-1</text>
<text class="t" transform="translate(57.7,369.0) scale(1.05,1)" font-size="20.3px" text-anchor="end">-1.5</text>
<text class="t" transform="translate(297.1,418.6) scale(1.0,1)" font-size="23.2px" text-anchor="middle">t /s</text>
<text class="t" transform="translate(12.5,183.2) rotate(-90)" font-size="23.2px" text-anchor="middle">x</text>
</g>
<g class="legend">
<path d="M258.6,29.5h31.6" stroke="#ff0000" stroke-width="1.7"/>
<path d="M258.6,56.6h31.6" stroke="#000000" stroke-width="1.7"/>
<text class="t" transform="translate(293.0,37.8) scale(1.05,1)" font-size="20.3px" text-anchor="start" style="fill:#000;stroke:#000">Incremental initial value</text>
<text class="t" transform="translate(293.0,64.9) scale(1.05,1)" font-size="20.3px" text-anchor="start" style="fill:#000;stroke:#000">Initial value of reference</text>
</g>
<clipPath id="clipi1"><rect x="181.3" y="209.2" width="228.3" height="110.8"/></clipPath>
<g clip-path="url(#clipi1)" fill="none" stroke-width="1.7" stroke-linejoin="round" stroke-linecap="butt">
<path d="M181.3,266.8 181.8,266.3 182.3,265.7 182.8,265.2 183.3,264.7 183.8,264.2 184.3,263.6 184.8,263.1 185.3,262.6 185.8,262.1 186.3,261.5 186.8,261.0 187.3,260.5 187.8,260.0 188.3,259.4 188.8,258.9 189.3,258.4 189.8,257.9 190.3,257.4 190.8,256.8 191.3,256.3 191.8,255.8 192.3,255.3 192.8,254.8 193.3,254.2 193.8,253.7 194.3,253.2 194.8,252.7 195.3,252.1 195.8,251.6 196.3,251.1 196.8,250.6 197.3,250.1 197.8,249.5 198.3,249.0 198.8,248.5 199.3,248.0 199.8,247.4 200.3,246.9 200.8,246.4 201.3,245.9 201.8,245.4 202.3,244.8 202.8,244.3 203.3,243.8 203.8,243.3 204.3,242.8 204.8,242.2 205.3,241.7 205.8,241.2 206.3,240.7 206.8,240.2 207.3,239.7 207.8,239.2 208.3,238.6 208.8,238.1 209.3,237.6 209.8,237.1 210.3,236.6 210.8,236.1 211.3,235.6 211.8,235.1 212.3,234.6 212.8,234.1 213.3,233.5 213.8,233.0 214.3,232.5 214.8,232.0 215.3,231.5 215.8,231.0 216.3,230.5 216.8,230.0 217.3,229.5 217.8,229.1 218.3,228.7 218.8,228.2 219.3,227.9 219.8,227.5 220.3,227.2 220.8,226.8 221.3,226.5 221.8,226.3 222.3,226.0 222.8,225.8 223.3,225.5 223.8,225.3 224.3,225.1 224.8,224.9 225.3,224.8 225.8,224.6 226.3,224.5 226.8,224.4 227.3,224.3 227.8,224.2 228.3,224.1 228.8,224.0 229.3,223.9 229.8,223.9 230.3,223.8 230.8,223.8 231.3,223.8 231.8,223.8 232.3,223.8 232.8,223.8 233.3,223.9 233.8,224.0 234.3,224.1 234.8,224.2 235.3,224.4 235.8,224.5 236.3,224.7 236.8,224.9 237.3,225.1 237.8,225.3 238.3,225.5 238.8,225.7 239.3,226.0 239.8,226.2 240.3,226.5 240.8,226.8 241.3,227.1 241.8,227.4 242.3,227.7 242.8,228.0 243.3,228.3 243.8,228.6 244.3,229.0 244.8,229.3 245.3,229.6 245.8,229.9 246.3,230.3 246.8,230.6 247.3,231.0 247.8,231.4 248.3,231.8 248.8,232.2 249.3,232.7 249.8,233.2 250.3,233.7 250.8,234.3 251.3,234.8 251.8,235.5 252.3,236.2 252.8,236.9 253.3,237.6 253.8,238.5 254.3,239.3 254.8,240.2 255.3,241.1 255.8,242.0 256.3,243.0 256.8,243.9 257.3,244.9 257.8,245.8 258.3,246.8 258.8,247.8 259.3,248.8 259.8,249.8 260.3,250.8 260.8,251.9 261.3,252.9 261.8,254.0 262.3,255.0 262.8,256.1 263.3,257.1 263.8,258.2 264.3,259.3 264.8,260.4 265.3,261.5 265.8,262.5 266.3,263.6 266.8,264.7 267.3,265.8 267.8,267.0 268.3,268.1 268.8,269.2 269.3,270.4 269.8,271.5 270.3,272.6 270.8,273.8 271.3,274.9 271.8,276.1 272.3,277.2 272.8,278.3 273.3,279.5 273.8,280.6 274.3,281.7 274.8,282.8 275.3,283.9 275.8,285.0 276.3,286.0 276.8,287.1 277.3,288.1 277.8,289.1 278.3,290.1 278.8,291.1 279.3,292.1 279.8,293.0 280.3,294.0 280.8,294.9 281.3,295.8 281.8,296.6 282.3,297.5 282.8,298.3 283.3,299.1 283.8,299.9 284.3,300.7 284.8,301.5 285.3,302.2 285.8,302.9 286.3,303.6 286.8,304.3 287.3,304.9 287.8,305.5 288.3,306.1 288.8,306.7 289.3,307.2 289.8,307.7 290.3,308.2 290.8,308.7 291.3,309.1 291.8,309.5 292.3,309.9 292.8,310.3 293.3,310.7 293.8,311.0 294.3,311.3 294.8,311.6 295.3,311.9 295.8,312.2 296.3,312.4 296.8,312.6 297.3,312.9 297.8,313.1 298.3,313.3 298.8,313.5 299.3,313.7 299.8,313.9 300.3,314.1 300.8,314.3 301.3,314.4 301.8,314.6 302.3,314.7 302.8,314.9 303.3,315.0 303.8,315.2 304.3,315.3 304.8,315.4 305.3,315.5 305.8,315.6 306.3,315.7 306.8,315.8 307.3,315.8 307.8,315.9 308.3,315.9 308.8,316.0 309.3,316.0 309.8,316.0 310.3,316.0 310.8,316.0 311.3,316.0 311.8,316.0 312.3,316.0 312.8,316.0 313.3,315.9 313.8,315.9 314.3,315.9 314.8,315.8 315.3,315.8 315.8,315.7 316.3,315.7 316.8,315.6 317.3,315.6 317.8,315.5 318.3,315.4 318.8,315.4 319.3,315.3 319.8,315.2 320.3,315.1 320.8,315.0 321.3,314.9 321.8,314.8 322.3,314.7 322.8,314.6 323.3,314.4 323.8,314.3 324.3,314.2 324.8,314.0 325.3,313.9 325.8,313.7 326.3,313.6 326.8,313.4 327.3,313.2 327.8,313.0 328.3,312.8 328.8,312.6 329.3,312.4 329.8,312.2 330.3,312.0 330.8,311.8 331.3,311.6 331.8,311.3 332.3,311.1 332.8,310.8 333.3,310.6 333.8,310.3 334.3,310.1 334.8,309.8 335.3,309.5 335.8,309.2 336.3,308.9 336.8,308.6 337.3,308.3 337.8,308.0 338.3,307.7 338.8,307.4 339.3,307.1 339.8,306.7 340.3,306.4 340.8,306.0 341.3,305.7 341.8,305.3 342.3,304.9 342.8,304.5 343.3,304.1 343.8,303.7 344.3,303.3 344.8,302.9 345.3,302.5 345.8,302.0 346.3,301.6 346.8,301.1 347.3,300.6 347.8,300.1 348.3,299.6 348.8,299.1 349.3,298.6 349.8,298.1 350.3,297.6 350.8,297.0 351.3,296.5 351.8,295.9 352.3,295.3 352.8,294.8 353.3,294.2 353.8,293.6 354.3,293.0 354.8,292.4 355.3,291.7 355.8,291.1 356.3,290.5 356.8,289.8 357.3,289.2 357.8,288.5 358.3,287.8 358.8,287.2 359.3,286.5 359.8,285.8 360.3,285.1 360.8,284.4 361.3,283.7 361.8,282.9 362.3,282.2 362.8,281.4 363.3,280.7 363.8,279.9 364.3,279.1 364.8,278.3 365.3,277.5 365.8,276.7 366.3,275.9 366.8,275.1 367.3,274.2 367.8,273.3 368.3,272.5 368.8,271.6 369.3,270.7 369.8,269.8 370.3,268.9 370.8,267.9 371.3,267.0 371.8,266.0 372.3,265.0 372.8,264.0 373.3,263.0 373.8,262.0 374.3,260.9 374.8,259.9 375.3,258.8 375.8,257.8 376.3,256.7 376.8,255.6 377.3,254.5 377.8,253.5 378.3,252.4 378.8,251.3 379.3,250.2 379.8,249.1 380.3,248.0 380.8,246.9 381.3,245.8 381.8,244.8 382.3,243.7 382.8,242.7 383.3,241.6 383.8,240.6 384.3,239.6 384.8,238.6 385.3,237.6 385.8,236.6 386.3,235.6 386.8,234.7 387.3,233.7 387.8,232.8 388.3,231.9 388.8,230.9 389.3,230.0 389.8,229.1 390.3,228.2 390.8,227.3 391.3,226.3 391.8,225.4 392.3,224.5 392.8,223.6 393.3,222.7 393.8,221.8 394.3,220.9 394.8,220.0 395.3,219.1 395.8,218.1 396.3,217.2 396.8,216.3 397.3,215.4 397.8,214.4 398.3,213.5 398.8,212.5 399.3,211.6 399.8,210.6 400.3,209.6 400.8,208.6 401.3,207.6 401.8,206.6 402.3,205.6 402.8,204.6 403.3,203.6 403.8,202.5 404.3,201.5 404.8,200.4 405.0,200.0" stroke="#ff0000"/>
<path d="M181.3,266.8 181.8,266.3 182.3,265.8 182.8,265.3 183.3,264.7 183.8,264.2 184.3,263.7 184.8,263.2 185.3,262.7 185.8,262.2 186.3,261.6 186.8,261.1 187.3,260.6 187.8,260.1 188.3,259.6 188.8,259.1 189.3,258.6 189.8,258.0 190.3,257.5 190.8,257.0 191.3,256.5 191.8,256.0 192.3,255.5 192.8,254.9 193.3,254.4 193.8,253.9 194.3,253.4 194.8,252.9 195.3,252.4 195.8,251.9 196.3,251.3 196.8,250.8 197.3,250.3 197.8,249.8 198.3,249.3 198.8,248.8 199.3,248.2 199.8,247.7 200.3,247.2 200.8,246.7 201.3,246.2 201.8,245.7 202.3,245.2 202.8,244.6 203.3,244.1 203.8,243.6 204.3,243.1 204.8,242.6 205.3,242.1 205.8,241.5 206.3,241.0 206.8,240.5 207.3,240.0 207.8,239.5 208.3,239.0 208.8,238.4 209.3,237.9 209.8,237.4 210.3,236.9 210.8,236.4 211.3,235.9 211.8,235.3 212.3,234.8 212.8,234.3 213.3,233.8 213.8,233.3 214.3,232.8 214.8,232.3 215.3,231.7 215.8,231.2 216.3,230.7 216.8,230.2 217.3,229.7 217.8,229.2 218.3,228.8 218.8,228.4 219.3,228.0 219.8,227.6 220.3,227.2 220.8,226.9 221.3,226.6 221.8,226.3 222.3,226.0 222.8,225.7 223.3,225.5 223.8,225.2 224.3,225.0 224.8,224.8 225.3,224.7 225.8,224.5 226.3,224.4 226.8,224.2 227.3,224.1 227.8,224.0 228.3,223.9 228.8,223.9 229.3,223.8 229.8,223.8 230.3,223.8 230.8,223.8 231.3,223.8 231.8,223.9 232.3,224.0 232.8,224.1 233.3,224.3 233.8,224.5 234.3,224.6 234.8,224.9 235.3,225.1 235.8,225.3 236.3,225.6 236.8,225.9 237.3,226.2 237.8,226.5 238.3,226.8 238.8,227.2 239.3,227.5 239.8,227.9 240.3,228.2 240.8,228.6 241.3,229.0 241.8,229.4 242.3,229.8 242.8,230.2 243.3,230.6 243.8,231.0 244.3,231.4 244.8,231.8 245.3,232.3 245.8,232.7 246.3,233.2 246.8,233.6 247.3,234.1 247.8,234.7 248.3,235.2 248.8,235.8 249.3,236.4 249.8,237.0 250.3,237.7 250.8,238.4 251.3,239.1 251.8,239.9 252.3,240.7 252.8,241.6 253.3,242.5 253.8,243.4 254.3,244.3 254.8,245.3 255.3,246.2 255.8,247.2 256.3,248.2 256.8,249.1 257.3,250.1 257.8,251.2 258.3,252.2 258.8,253.2 259.3,254.2 259.8,255.3 260.3,256.3 260.8,257.4 261.3,258.4 261.8,259.5 262.3,260.6 262.8,261.7 263.3,262.8 263.8,263.8 264.3,264.9 264.8,266.1 265.3,267.2 265.8,268.3 266.3,269.4 266.8,270.6 267.3,271.7 267.8,272.9 268.3,274.0 268.8,275.1 269.3,276.3 269.8,277.4 270.3,278.6 270.8,279.7 271.3,280.8 271.8,281.9 272.3,283.0 272.8,284.1 273.3,285.2 273.8,286.3 274.3,287.3 274.8,288.3 275.3,289.3 275.8,290.3 276.3,291.3 276.8,292.3 277.3,293.2 277.8,294.1 278.3,295.1 278.8,295.9 279.3,296.8 279.8,297.7 280.3,298.5 280.8,299.3 281.3,300.1 281.8,300.9 282.3,301.6 282.8,302.3 283.3,303.0 283.8,303.7 284.3,304.4 284.8,305.0 285.3,305.6 285.8,306.2 286.3,306.8 286.8,307.3 287.3,307.8 287.8,308.3 288.3,308.8 288.8,309.2 289.3,309.6 289.8,310.0 290.3,310.4 290.8,310.7 291.3,311.1 291.8,311.4 292.3,311.7 292.8,311.9 293.3,312.2 293.8,312.5 294.3,312.7 294.8,312.9 295.3,313.1 295.8,313.4 296.3,313.6 296.8,313.8 297.3,314.0 297.8,314.2 298.3,314.3 298.8,314.5 299.3,314.7 299.8,314.8 300.3,315.0 300.8,315.1 301.3,315.2 301.8,315.3 302.3,315.4 302.8,315.5 303.3,315.6 303.8,315.6 304.3,315.7 304.8,315.7 305.3,315.7 305.8,315.7 306.3,315.7 306.8,315.7 307.3,315.6 307.8,315.6 308.3,315.6 308.8,315.5 309.3,315.5 309.8,315.4 310.3,315.4 310.8,315.3 311.3,315.2 311.8,315.2 312.3,315.1 312.8,315.0 313.3,314.9 313.8,314.8 314.3,314.7 314.8,314.6 315.3,314.5 315.8,314.3 316.3,314.2 316.8,314.1 317.3,313.9 317.8,313.8 318.3,313.6 318.8,313.5 319.3,313.3 319.8,313.2 320.3,313.0 320.8,312.8 321.3,312.6 321.8,312.5 322.3,312.3 322.8,312.1 323.3,311.9 323.8,311.6 324.3,311.4 324.8,311.2 325.3,311.0 325.8,310.7 326.3,310.5 326.8,310.3 327.3,310.0 327.8,309.7 328.3,309.5 328.8,309.2 329.3,308.9 329.8,308.6 330.3,308.3 330.8,308.0 331.3,307.7 331.8,307.4 332.3,307.1 332.8,306.8 333.3,306.4 333.8,306.1 334.3,305.8 334.8,305.4 335.3,305.0 335.8,304.7 336.3,304.3 336.8,303.9 337.3,303.5 337.8,303.1 338.3,302.7 338.8,302.2 339.3,301.8 339.8,301.3 340.3,300.9 340.8,300.4 341.3,299.9 341.8,299.4 342.3,298.9 342.8,298.4 343.3,297.8 343.8,297.3 344.3,296.7 344.8,296.2 345.3,295.6 345.8,295.0 346.3,294.4 346.8,293.8 347.3,293.2 347.8,292.5 348.3,291.9 348.8,291.2 349.3,290.5 349.8,289.8 350.3,289.1 350.8,288.4 351.3,287.7 351.8,287.0 352.3,286.2 352.8,285.5 353.3,284.8 353.8,284.0 354.3,283.3 354.8,282.5 355.3,281.7 355.8,280.9 356.3,280.2 356.8,279.4 357.3,278.6 357.8,277.8 358.3,276.9 358.8,276.1 359.3,275.3 359.8,274.5 360.3,273.6 360.8,272.8 361.3,271.9 361.8,271.0 362.3,270.1 362.8,269.2 363.3,268.3 363.8,267.4 364.3,266.5 364.8,265.6 365.3,264.6 365.8,263.7 366.3,262.7 366.8,261.7 367.3,260.7 367.8,259.7 368.3,258.7 368.8,257.7 369.3,256.7 369.8,255.7 370.3,254.7 370.8,253.7 371.3,252.7 371.8,251.7 372.3,250.7 372.8,249.6 373.3,248.6 373.8,247.6 374.3,246.6 374.8,245.6 375.3,244.6 375.8,243.5 376.3,242.5 376.8,241.5 377.3,240.5 377.8,239.5 378.3,238.6 378.8,237.6 379.3,236.6 379.8,235.6 380.3,234.6 380.8,233.7 381.3,232.7 381.8,231.8 382.3,230.8 382.8,229.9 383.3,228.9 383.8,228.0 384.3,227.0 384.8,226.1 385.3,225.1 385.8,224.2 386.3,223.2 386.8,222.3 387.3,221.3 387.8,220.4 388.3,219.5 388.8,218.5 389.3,217.5 389.8,216.6 390.3,215.6 390.8,214.7 391.3,213.7 391.8,212.7 392.3,211.8 392.8,210.8 393.3,209.8 393.8,208.8 394.3,207.8 394.8,206.8 395.3,205.7 395.8,204.7 396.3,203.6 396.8,202.6 397.3,201.5 397.8,200.4 398.0,200.0" stroke="#000000"/>
</g>
<g id="inset1">
<path d="M238.4,320.0v-3.6M238.4,209.2v3.6M295.5,320.0v-3.6M295.5,209.2v3.6M352.5,320.0v-3.6M352.5,209.2v3.6M181.3,227.7h3.6M409.6,227.7h-3.6M181.3,264.6h3.6M409.6,264.6h-3.6M181.3,301.5h3.6M409.6,301.5h-3.6" stroke="#262626" stroke-width="2.2" fill="none"/>
<rect x="181.3" y="209.2" width="228.3" height="110.8" fill="none" stroke="#262626" stroke-width="2.3"/>
<text class="t" transform="translate(181.3,345.8) scale(1.02,1)" font-size="18.5px" text-anchor="middle">320</text>
<text class="t" transform="translate(238.4,345.8) scale(1.02,1)" font-size="18.5px" text-anchor="middle">340</text>
<text class="t" transform="translate(295.5,345.8) scale(1.02,1)" font-size="18.5px" text-anchor="middle">360</text>
<text class="t" transform="translate(352.5,345.8) scale(1.02,1)" font-size="18.5px" text-anchor="middle">380</text>
<text class="t" transform="translate(409.6,345.8) scale(1.02,1)" font-size="18.5px" text-anchor="middle">400</text>
<text class="t" transform="translate(173.3,235.7) scale(1.02,1)" font-size="18.5px" text-anchor="end">0.1</text>
<text class="t" transform="translate(173.3,272.6) scale(1.02,1)" font-size="18.5px" text-anchor="end">0</text>
<text class="t" transform="translate(173.3,309.5) scale(1.02,1)" font-size="18.5px" text-anchor="end">-0.1</text>
</g>
<clipPath id="clipp2"><rect x="651.5" y="6.2" width="462.6" height="349.0"/></clipPath>
<g clip-path="url(#clipp2)" fill="none" stroke-width="1.75" stroke-linejoin="round" stroke-linecap="butt">
<path d="M651.5,132.5 652.0,134.4 652.5,136.2 653.0,137.8 653.5,139.2 654.0,140.4 654.5,141.5 655.0,142.4 655.5,143.2 656.0,143.8 656.5,144.3 657.0,144.5 657.5,144.7 658.0,144.6 658.5,144.1 659.0,143.1 659.5,141.8 660.0,140.2 660.5,138.3 661.0,136.3 661.5,134.0 662.0,131.7 662.5,129.3 663.0,127.0 663.5,124.7 664.0,122.5 664.5,120.5 665.0,118.7 665.5,117.2 666.0,116.0 666.5,115.2 667.0,114.9 667.5,115.6 668.0,118.0 668.5,121.9 669.0,126.9 669.5,132.7 670.0,138.8 670.5,144.9 671.0,150.7 671.5,155.7 672.0,159.6 672.5,162.0 673.0,162.7 673.5,161.3 674.0,158.3 674.5,154.2 675.0,149.2 675.5,143.9 676.0,138.6 676.5,133.7 677.0,129.8 677.5,127.1 678.0,126.1 678.5,126.4 679.0,127.3 679.5,128.6 680.0,130.4 680.5,132.5 681.0,134.8 681.5,137.4 682.0,140.1 682.5,142.8 683.0,145.5 683.5,148.2 684.0,150.6 684.5,152.8 685.0,154.7 685.5,156.3 686.0,157.3 686.5,157.9 687.0,157.6 687.5,155.7 688.0,152.6 688.5,148.3 689.0,143.3 689.5,137.9 690.0,132.2 690.5,126.8 691.0,121.8 691.5,117.5 692.0,114.4 692.5,112.5 693.0,112.5 693.5,115.3 694.0,120.5 694.5,127.1 695.0,134.2 695.5,141.0 696.0,146.5 696.5,149.9 697.0,150.4 697.5,149.9 698.0,148.8 698.5,147.2 699.0,145.1 699.5,142.7 700.0,140.1 700.5,137.2 701.0,134.2 701.5,131.1 702.0,128.0 702.5,125.0 703.0,122.1 703.5,119.5 704.0,117.1 704.5,115.0 705.0,113.4 705.5,112.3 706.0,111.8 706.5,112.1 707.0,114.5 707.5,118.7 708.0,124.2 708.5,130.7 709.0,137.6 709.5,144.5 710.0,151.0 710.5,156.8 711.0,161.2 711.5,164.1 712.0,164.8 712.5,164.1 713.0,162.6 713.5,160.3 714.0,157.5 714.5,154.2 715.0,150.7 715.5,147.1 716.0,143.5 716.5,140.1 717.0,137.0 717.5,134.4 718.0,132.4 718.5,131.2 719.0,130.9 719.5,131.2 720.0,131.7 720.5,132.6 721.0,133.7 721.5,134.9 722.0,136.4 722.5,137.9 723.0,139.4 723.5,140.9 724.0,142.4 724.5,143.9 725.0,145.1 725.5,146.2 726.0,147.1 726.5,147.6 727.0,147.9 727.5,147.5 728.0,146.2 728.5,144.0 729.0,141.2 729.5,138.0 730.0,134.6 730.5,131.2 731.0,128.0 731.5,125.2 732.0,123.0 732.5,121.7 733.0,121.3 733.5,121.8 734.0,123.0 734.5,124.7 735.0,127.0 735.5,129.6 736.0,132.6 736.5,135.8 737.0,139.2 737.5,142.6 738.0,146.0 738.5,149.4 739.0,152.5 739.5,155.5 740.0,158.0 740.5,160.2 741.0,161.8 741.5,162.8 742.0,163.2 742.5,162.2 743.0,159.6 743.5,155.5 744.0,150.3 744.5,144.4 745.0,138.0 745.5,131.6 746.0,125.3 746.5,119.5 747.0,114.5 747.5,110.7 748.0,108.3 748.5,107.8 749.0,109.8 749.5,114.1 750.0,119.7 750.5,125.6 751.0,130.8 751.5,134.5 752.0,136.0 752.5,136.8 753.0,137.6 753.5,138.3 754.0,139.0 754.5,139.5 755.0,140.1 755.5,140.5 756.0,140.9 756.5,141.2 757.0,141.4 757.5,141.6 758.0,141.7 758.5,141.7 759.0,141.3 759.5,140.5 760.0,139.4 760.5,138.0 761.0,136.4 761.5,134.8 762.0,133.2 762.5,131.7 763.0,130.4 763.5,129.4 764.0,128.9 764.5,128.9 765.0,129.6 765.5,131.0 766.0,132.9 766.5,135.2 767.0,137.7 767.5,140.3 768.0,142.8 768.5,145.2 769.0,147.2 769.5,148.7 770.0,149.5 770.5,149.6 771.0,149.1 771.5,147.9 772.0,146.3 772.5,144.2 773.0,141.8 773.5,139.1 774.0,136.2 774.5,133.3 775.0,130.2 775.5,127.3 776.0,124.5 776.5,121.8 777.0,119.5 777.5,117.5 778.0,115.9 778.5,114.9 779.0,114.4 779.5,115.1 780.0,117.9 780.5,122.4 781.0,128.1 781.5,134.5 782.0,141.2 782.5,147.8 783.0,153.8 783.5,158.8 784.0,162.4 784.5,164.0 785.0,163.5 785.5,161.7 786.0,158.9 786.5,155.2 787.0,150.9 787.5,146.4 788.0,141.8 788.5,137.4 789.0,133.4 789.5,130.2 790.0,127.9 790.5,126.9 791.0,127.1 791.5,128.0 792.0,129.3 792.5,131.2 793.0,133.4 793.5,135.8 794.0,138.5 794.5,141.3 795.0,144.1 795.5,146.8 796.0,149.4 796.5,151.7 797.0,153.7 797.5,155.3 798.0,156.3 798.5,156.8 799.0,156.3 799.5,154.2 800.0,151.0 800.5,146.8 801.0,141.9 801.5,136.7 802.0,131.3 802.5,126.2 803.0,121.6 803.5,117.7 804.0,114.9 804.5,113.4 805.0,114.1 805.5,118.4 806.0,125.3 806.5,133.4 807.0,141.3 807.5,147.8 808.0,151.4 808.5,151.4 809.0,149.4 809.5,146.5 810.0,143.4 810.5,141.1 811.0,139.8 811.5,138.9 812.0,138.1 812.5,137.4 813.0,136.6 813.5,135.7 814.0,134.5 814.5,132.7 815.0,130.5 815.5,127.9 816.0,125.1 816.5,122.3 817.0,119.6 817.5,117.1 818.0,115.0 818.5,113.5 819.0,112.6 819.5,112.6 820.0,114.8 820.5,119.0 821.0,124.6 821.5,131.3 822.0,138.4 822.5,145.5 823.0,152.2 823.5,157.8 824.0,162.0 824.5,164.2 825.0,164.1 825.5,162.6 826.0,160.0 826.5,156.6 827.0,152.5 827.5,148.0 828.0,143.3 828.5,138.8 829.0,134.6 829.5,131.0 830.0,128.2 830.5,126.5 831.0,126.0 831.5,126.5 832.0,127.5 832.5,129.0 833.0,131.0 833.5,133.3 834.0,135.8 834.5,138.5 835.0,141.3 835.5,144.0 836.0,146.7 836.5,149.2 837.0,151.4 837.5,153.3 838.0,154.7 838.5,155.7 839.0,156.0 839.5,155.2 840.0,152.8 840.5,149.3 841.0,144.9 841.5,139.9 842.0,134.7 842.5,129.4 843.0,124.4 843.5,120.0 844.0,116.5 844.5,114.1 845.0,113.3 845.5,114.6 846.0,118.0 846.5,122.6 847.0,127.7 847.5,132.5 848.0,136.2 848.5,137.9 849.0,138.0 849.5,137.8 850.0,137.6 850.5,137.4 851.0,137.3 851.5,137.2 852.0,137.5 852.5,138.6 853.0,140.4 853.5,142.6 854.0,145.1 854.5,147.7 855.0,150.2 855.5,152.4 856.0,154.2 856.5,155.3 857.0,155.6 857.5,154.3 858.0,151.4 858.5,147.3 859.0,142.4 859.5,136.9 860.0,131.4 860.5,126.0 861.0,121.2 861.5,117.3 862.0,114.7 862.5,113.8 863.0,115.3 863.5,119.2 864.0,124.7 864.5,131.2 865.0,137.8 865.5,143.8 866.0,148.4 866.5,151.0 867.0,150.8 867.5,148.8 868.0,145.7 868.5,142.3 869.0,139.4 869.5,137.7 870.0,137.3 870.5,137.1 871.0,136.9 871.5,136.7 872.0,136.5 872.5,136.3 873.0,135.8 873.5,134.9 874.0,133.6 874.5,132.1 875.0,130.4 875.5,128.6 876.0,126.8 876.5,124.9 877.0,123.2 877.5,121.6 878.0,120.2 878.5,119.1 879.0,118.4 879.5,118.2 880.0,119.1 880.5,121.7 881.0,125.5 881.5,130.2 882.0,135.5 882.5,141.1 883.0,146.4 883.5,151.3 884.0,155.3 884.5,158.2 885.0,159.5 885.5,158.5 886.0,154.9 886.5,149.5 887.0,143.1 887.5,136.4 888.0,130.2 888.5,125.5 889.0,122.9 889.5,122.9 890.0,124.5 890.5,127.0 891.0,129.8 891.5,132.3 892.0,133.9 892.5,134.4 893.0,134.6 893.5,134.8 894.0,134.9 894.5,135.0 895.0,135.2 895.5,135.3 896.0,135.6 896.5,136.2 897.0,137.4 897.5,139.0 898.0,140.8 898.5,142.9 899.0,145.1 899.5,147.2 900.0,149.2 900.5,150.9 901.0,152.2 901.5,153.0 902.0,153.2 902.5,152.1 903.0,149.9 903.5,146.6 904.0,142.6 904.5,138.2 905.0,133.5 905.5,128.9 906.0,124.6 906.5,120.9 907.0,118.0 907.5,116.2 908.0,115.7 908.5,117.3 909.0,120.6 909.5,125.2 910.0,130.3 910.5,135.5 911.0,140.2 911.5,143.9 912.0,145.8 912.5,145.7 913.0,144.3 913.5,142.1 914.0,139.2 914.5,136.3 915.0,133.5 915.5,131.4 916.0,130.2 916.5,130.2 917.0,130.9 917.5,132.0 918.0,133.6 918.5,135.5 919.0,137.7 919.5,140.0 920.0,142.3 920.5,144.7 921.0,146.8 921.5,148.8 922.0,150.5 922.5,151.7 923.0,152.5 923.5,152.7 924.0,151.7 924.5,149.4 925.0,146.2 925.5,142.2 926.0,137.8 926.5,133.2 927.0,128.7 927.5,124.6 928.0,121.0 928.5,118.3 929.0,116.8 929.5,116.7 930.0,118.6 930.5,122.1 931.0,126.6 931.5,131.5 932.0,136.3 932.5,140.3 933.0,142.9 933.5,143.6 934.0,142.7 934.5,140.8 935.0,138.6 935.5,136.4 936.0,134.7 936.5,134.0 937.0,134.2 937.5,134.7 938.0,135.5 938.5,136.6 939.0,137.9 939.5,139.2 940.0,140.7 940.5,142.2 941.0,143.7 941.5,145.1 942.0,146.4 942.5,147.5 943.0,148.3 943.5,148.9 944.0,149.2 944.5,149.0 945.0,148.1 945.5,146.6 946.0,144.6 946.5,142.2 947.0,139.5 947.5,136.7 948.0,133.8 948.5,130.8 949.0,128.0 949.5,125.4 950.0,123.1 950.5,121.2 951.0,119.8 951.5,119.0 952.0,119.0 952.5,119.8 953.0,121.4 953.5,123.7 954.0,126.5 954.5,129.8 955.0,133.4 955.5,137.3 956.0,141.2 956.5,145.1 957.0,148.8 957.5,152.3 958.0,155.5 958.5,158.1 959.0,160.1 959.5,161.4 960.0,161.9 960.5,160.8 961.0,157.9 961.5,153.4 962.0,147.8 962.5,141.5 963.0,134.8 963.5,128.1 964.0,121.9 964.5,116.5 965.0,112.3 965.5,109.7 966.0,109.0 966.5,110.6 967.0,113.8 967.5,117.9 968.0,122.2 968.5,125.9 969.0,128.5 969.5,131.0 970.0,133.4 970.5,135.4 971.0,137.0 971.5,138.1 972.0,139.2 972.5,140.1 973.0,140.9 973.5,141.5 974.0,141.9 974.5,142.0 975.0,141.7 975.5,141.1 976.0,140.1 976.5,138.9 977.0,137.5 977.5,136.0 978.0,134.5 978.5,132.9 979.0,131.4 979.5,130.0 980.0,128.8 980.5,127.8 981.0,127.2 981.5,126.9 982.0,127.3 982.5,128.6 983.0,130.8 983.5,133.6 984.0,136.8 984.5,140.1 985.0,143.4 985.5,146.5 986.0,149.0 986.5,150.9 987.0,151.9 987.5,151.9 988.0,151.2 988.5,149.9 989.0,148.1 989.5,145.9 990.0,143.4 990.5,140.6 991.0,137.5 991.5,134.4 992.0,131.1 992.5,127.9 993.0,124.7 993.5,121.7 994.0,119.0 994.5,116.5 995.0,114.4 995.5,112.7 996.0,111.5 996.5,111.0 997.0,111.4 997.5,114.5 998.0,119.8 998.5,126.6 999.0,134.4 999.5,142.5 1000.0,150.3 1000.5,157.1 1001.0,162.4 1001.5,165.5 1002.0,165.9 1002.5,165.4 1003.0,164.2 1003.5,162.5 1004.0,160.4 1004.5,158.0 1005.0,155.3 1005.5,152.5 1006.0,149.5 1006.5,146.6 1007.0,143.7 1007.5,141.0 1008.0,138.5 1008.5,136.4 1009.0,134.6 1009.5,133.3 1010.0,132.6 1010.5,132.5 1011.0,132.9 1011.5,133.5 1012.0,134.4 1012.5,135.5 1013.0,136.8 1013.5,138.1 1014.0,139.5 1014.5,140.9 1015.0,142.2 1015.5,143.5 1016.0,144.5 1016.5,145.3 1017.0,145.8 1017.5,146.0 1018.0,145.6 1018.5,144.5 1019.0,142.9 1019.5,140.8 1020.0,138.5 1020.5,135.9 1021.0,133.3 1021.5,130.8 1022.0,128.4 1022.5,126.4 1023.0,124.9 1023.5,124.0 1024.0,123.7 1024.5,124.2 1025.0,125.5 1025.5,127.3 1026.0,129.6 1026.5,132.2 1027.0,135.2 1027.5,138.4 1028.0,141.7 1028.5,145.0 1029.0,148.2 1029.5,151.3 1030.0,154.0 1030.5,156.4 1031.0,158.3 1031.5,159.7 1032.0,160.3 1032.5,160.0 1033.0,157.9 1033.5,154.3 1034.0,149.4 1034.5,143.8 1035.0,137.6 1035.5,131.3 1036.0,125.2 1036.5,119.6 1037.0,115.0 1037.5,111.6 1038.0,109.9 1038.5,109.9 1039.0,111.2 1039.5,113.6 1040.0,116.6 1040.5,120.3 1041.0,124.3 1041.5,128.5 1042.0,132.7 1042.5,136.6 1043.0,140.1 1043.5,142.9 1044.0,144.8 1044.5,145.7 1045.0,145.5 1045.5,144.9 1046.0,143.9 1046.5,142.5 1047.0,140.9 1047.5,139.0 1048.0,136.9 1048.5,134.8 1049.0,132.6 1049.5,130.5 1050.0,128.4 1050.5,126.5 1051.0,124.8 1051.5,123.4 1052.0,122.3 1052.5,121.5 1053.0,121.3 1053.5,122.1 1054.0,124.4 1054.5,127.9 1055.0,132.1 1055.5,136.8 1056.0,141.7 1056.5,146.4 1057.0,150.6 1057.5,154.1 1058.0,156.4 1058.5,157.2 1059.0,156.5 1059.5,154.6 1060.0,151.8 1060.5,148.6 1061.0,145.1 1061.5,141.9 1062.0,139.1 1062.5,137.2 1063.0,136.5 1063.5,136.5 1064.0,136.6 1064.5,136.7 1065.0,136.8 1065.5,137.0 1066.0,137.1 1066.5,137.2 1067.0,137.2 1067.5,136.9 1068.0,136.0 1068.5,134.7 1069.0,133.1 1069.5,131.4 1070.0,129.5 1070.5,127.8 1071.0,126.2 1071.5,124.9 1072.0,124.0 1072.5,123.7 1073.0,124.4 1073.5,126.4 1074.0,129.3 1074.5,132.9 1075.0,137.0 1075.5,141.2 1076.0,145.3 1076.5,149.0 1077.0,152.1 1077.5,154.3 1078.0,155.3 1078.5,155.2 1079.0,154.6 1079.5,153.6 1080.0,152.3 1080.5,150.6 1081.0,148.7 1081.5,146.5 1082.0,144.2 1082.5,141.7 1083.0,139.0 1083.5,136.3 1084.0,133.6 1084.5,130.9 1085.0,128.2 1085.5,125.6 1086.0,123.2 1086.5,120.9 1087.0,118.8 1087.5,117.0 1088.0,115.5 1088.5,114.3 1089.0,113.4 1089.5,113.0 1090.0,113.5 1090.5,116.4 1091.0,121.3 1091.5,127.7 1092.0,134.9 1092.5,142.5 1093.0,149.7 1093.5,156.1 1094.0,161.0 1094.5,163.9 1095.0,164.3 1095.5,163.4 1096.0,161.7 1096.5,159.3 1097.0,156.4 1097.5,153.0 1098.0,149.4 1098.5,145.7 1099.0,142.0 1099.5,138.5 1100.0,135.3 1100.5,132.5 1101.0,130.4 1101.5,129.0 1102.0,128.5 1102.5,128.8 1103.0,129.8 1103.5,131.3 1104.0,133.2 1104.5,135.4 1105.0,137.8 1105.5,140.3 1106.0,142.9 1106.5,145.4 1107.0,147.7 1107.5,149.7 1108.0,151.4 1108.5,152.5 1109.0,153.1 1109.5,153.0 1110.0,152.1 1110.5,150.4 1111.0,148.0 1111.5,145.0 1112.0,141.4 1112.5,137.3 1113.0,132.8 1113.5,128.1 1114.0,123.0 1114.1,122.0" stroke="#ff0000"/>
<path d="M651.5,132.5 652.0,134.5 652.5,136.3 653.0,137.9 653.5,139.3 654.0,140.6 654.5,141.7 655.0,142.7 655.5,143.4 656.0,144.0 656.5,144.4 657.0,144.6 657.5,144.7 658.0,144.4 658.5,143.6 659.0,142.4 659.5,140.9 660.0,139.1 660.5,137.1 661.0,134.9 661.5,132.6 662.0,130.3 662.5,127.9 663.0,125.6 663.5,123.3 664.0,121.3 664.5,119.4 665.0,117.8 665.5,116.5 666.0,115.5 666.5,115.0 667.0,115.1 667.5,116.8 668.0,120.2 668.5,124.8 669.0,130.3 669.5,136.3 670.0,142.5 670.5,148.4 671.0,153.8 671.5,158.2 672.0,161.3 672.5,162.7 673.0,162.1 673.5,159.7 674.0,155.9 674.5,151.2 675.0,146.0 675.5,140.7 676.0,135.6 676.5,131.2 677.0,128.0 677.5,126.3 678.0,126.2 678.5,126.9 679.0,128.0 679.5,129.6 680.0,131.6 680.5,133.9 681.0,136.4 681.5,139.0 682.0,141.7 682.5,144.5 683.0,147.1 683.5,149.7 684.0,152.0 684.5,154.0 685.0,155.7 685.5,156.9 686.0,157.7 686.5,157.9 687.0,156.7 687.5,154.0 688.0,150.1 688.5,145.4 689.0,140.1 689.5,134.5 690.0,128.9 690.5,123.7 691.0,119.1 691.5,115.5 692.0,113.1 692.5,112.2 693.0,113.8 693.5,118.2 694.0,124.3 694.5,131.4 695.0,138.4 695.5,144.5 696.0,148.9 696.5,150.5 697.0,150.2 697.5,149.3 698.0,147.9 698.5,146.0 699.0,143.7 699.5,141.2 700.0,138.4 700.5,135.4 701.0,132.3 701.5,129.2 702.0,126.2 702.5,123.3 703.0,120.5 703.5,118.0 704.0,115.8 704.5,114.0 705.0,112.7 705.5,111.9 706.0,111.7 706.5,113.3 707.0,116.9 707.5,121.9 708.0,128.0 708.5,134.8 709.0,141.7 709.5,148.5 710.0,154.6 710.5,159.6 711.0,163.2 711.5,164.8 712.0,164.5 712.5,163.3 713.0,161.3 713.5,158.7 714.0,155.6 714.5,152.2 715.0,148.6 715.5,145.0 716.0,141.5 716.5,138.2 717.0,135.4 717.5,133.1 718.0,131.6 718.5,130.9 719.0,131.0 719.5,131.5 720.0,132.2 720.5,133.2 721.0,134.4 721.5,135.8 722.0,137.2 722.5,138.8 723.0,140.3 723.5,141.9 724.0,143.3 724.5,144.6 725.0,145.8 725.5,146.8 726.0,147.4 726.5,147.8 727.0,147.8 727.5,146.8 728.0,145.0 728.5,142.4 729.0,139.3 729.5,136.0 730.0,132.5 730.5,129.2 731.0,126.3 731.5,123.8 732.0,122.1 732.5,121.3 733.0,121.5 733.5,122.4 734.0,124.0 734.5,126.0 735.0,128.5 735.5,131.4 736.0,134.5 736.5,137.8 737.0,141.2 737.5,144.7 738.0,148.1 738.5,151.3 739.0,154.3 739.5,157.0 740.0,159.4 740.5,161.2 741.0,162.5 741.5,163.1 742.0,162.8 742.5,160.8 743.0,157.3 743.5,152.5 744.0,146.8 744.5,140.6 745.0,134.1 745.5,127.7 746.0,121.7 746.5,116.4 747.0,112.1 747.5,109.1 748.0,107.7 748.5,108.7 749.0,112.2 749.5,117.4 750.0,123.2 750.5,128.9 751.0,133.3 751.5,135.6 752.0,136.5 752.5,137.3 753.0,138.0 753.5,138.7 754.0,139.3 754.5,139.9 755.0,140.3 755.5,140.7 756.0,141.1 756.5,141.3 757.0,141.5 757.5,141.6 758.0,141.7 758.5,141.5 759.0,140.9 759.5,139.9 760.0,138.5 760.5,137.0 761.0,135.4 761.5,133.8 762.0,132.2 762.5,130.9 763.0,129.8 763.5,129.1 764.0,128.8 764.5,129.2 765.0,130.3 765.5,132.1 766.0,134.2 766.5,136.7 767.0,139.2 767.5,141.8 768.0,144.3 768.5,146.4 769.0,148.2 769.5,149.3 770.0,149.7 770.5,149.4 771.0,148.4 771.5,147.0 772.0,145.1 772.5,142.8 773.0,140.2 773.5,137.4 774.0,134.5 774.5,131.4 775.0,128.5 775.5,125.6 776.0,122.8 776.5,120.4 777.0,118.2 777.5,116.5 778.0,115.2 778.5,114.5 779.0,114.6 779.5,116.6 780.0,120.6 780.5,125.9 781.0,132.1 781.5,138.8 782.0,145.5 782.5,151.7 783.0,157.0 783.5,161.0 784.0,163.0 784.5,162.9 785.0,161.5 785.5,159.0 786.0,155.6 786.5,151.6 787.0,147.3 787.5,142.8 788.0,138.5 788.5,134.5 789.0,131.1 789.5,128.6 790.0,127.2 790.5,127.0 791.0,127.6 791.5,128.7 792.0,130.4 792.5,132.5 793.0,134.9 793.5,137.5 794.0,140.3 794.5,143.0 795.0,145.8 795.5,148.4 796.0,150.8 796.5,152.9 797.0,154.6 797.5,155.7 798.0,156.3 798.5,156.0 799.0,154.0 799.5,150.6 800.0,146.0 800.5,140.7 801.0,135.1 801.5,129.5 802.0,124.2 802.5,119.6 803.0,116.2 803.5,114.2 804.0,114.1 804.5,117.2 805.0,122.7 805.5,129.7 806.0,137.1 806.5,143.9 807.0,149.1 807.5,151.5 808.0,150.9 808.5,148.7 809.0,145.6 809.5,142.7 810.0,140.6 810.5,139.4 811.0,138.5 811.5,137.8 812.0,137.1 812.5,136.3 813.0,135.3 813.5,134.1 814.0,132.3 814.5,130.2 815.0,127.8 815.5,125.2 816.0,122.7 816.5,120.2 817.0,118.1 817.5,116.2 818.0,114.9 818.5,114.3 819.0,114.6 819.5,117.0 820.0,121.0 820.5,126.4 821.0,132.6 821.5,139.1 822.0,145.6 822.5,151.7 823.0,156.8 823.5,160.5 824.0,162.5 824.5,162.4 825.0,160.8 825.5,158.1 826.0,154.4 826.5,150.1 827.0,145.4 827.5,140.7 828.0,136.1 828.5,132.1 829.0,128.7 829.5,126.4 830.0,125.3 830.5,125.5 831.0,126.4 831.5,127.9 832.0,129.9 832.5,132.3 833.0,135.0 833.5,138.0 834.0,141.0 834.5,144.0 835.0,147.0 835.5,149.8 836.0,152.3 836.5,154.5 837.0,156.2 837.5,157.4 838.0,157.9 838.5,157.3 839.0,155.1 839.5,151.5 840.0,146.9 840.5,141.6 841.0,136.0 841.5,130.2 842.0,124.7 842.5,119.8 843.0,115.8 843.5,113.0 844.0,111.7 844.5,112.6 845.0,116.0 845.5,121.2 846.0,127.5 846.5,134.2 847.0,140.5 847.5,145.7 848.0,149.1 848.5,150.0 849.0,149.5 849.5,148.5 850.0,147.0 850.5,145.0 851.0,142.7 851.5,140.1 852.0,137.3 852.5,134.4 853.0,131.3 853.5,128.3 854.0,125.4 854.5,122.6 855.0,120.1 855.5,117.8 856.0,116.0 856.5,114.5 857.0,113.6 857.5,113.3 858.0,114.3 858.5,116.9 859.0,121.0 859.5,126.0 860.0,131.8 860.5,137.9 861.0,144.1 861.5,150.0 862.0,155.2 862.5,159.5 863.0,162.4 863.5,163.8 864.0,163.4 864.5,161.9 865.0,159.5 865.5,156.4 866.0,152.8 866.5,148.8 867.0,144.7 867.5,140.7 868.0,137.0 868.5,133.8 869.0,131.2 869.5,129.5 870.0,128.9 870.5,129.2 871.0,130.0 871.5,131.3 872.0,132.9 872.5,134.9 873.0,137.0 873.5,139.3 874.0,141.6 874.5,143.9 875.0,146.0 875.5,148.0 876.0,149.7 876.5,151.1 877.0,152.0 877.5,152.4 878.0,152.0 878.5,150.5 879.0,148.0 879.5,144.8 880.0,141.0 880.5,137.0 881.0,132.8 881.5,128.7 882.0,124.8 882.5,121.5 883.0,118.9 883.5,117.1 884.0,116.5 884.5,117.5 885.0,120.1 885.5,123.9 886.0,128.3 886.5,132.8 887.0,137.0 887.5,140.4 888.0,142.4 888.5,142.7 889.0,141.9 889.5,140.5 890.0,138.9 890.5,137.3 891.0,136.1 891.5,135.6 892.0,135.8 892.5,136.3 893.0,137.2 893.5,138.3 894.0,139.5 894.5,140.9 895.0,142.4 895.5,143.8 896.0,145.2 896.5,146.6 897.0,147.7 897.5,148.7 898.0,149.3 898.5,149.7 899.0,149.5 899.5,148.2 900.0,146.0 900.5,143.0 901.0,139.6 901.5,135.8 902.0,132.0 902.5,128.4 903.0,125.1 903.5,122.4 904.0,120.6 904.5,119.7 905.0,119.9 905.5,120.7 906.0,121.9 906.5,123.7 907.0,125.8 907.5,128.3 908.0,131.0 908.5,133.9 909.0,137.0 909.5,140.2 910.0,143.3 910.5,146.4 911.0,149.4 911.5,152.2 912.0,154.8 912.5,157.1 913.0,159.0 913.5,160.5 914.0,161.5 914.5,161.9 915.0,161.2 915.5,158.8 916.0,154.8 916.5,149.7 917.0,143.8 917.5,137.4 918.0,130.9 918.5,124.7 919.0,119.0 919.5,114.3 920.0,110.9 920.5,109.2 921.0,109.8 921.5,113.9 922.0,119.7 922.5,125.2 923.0,128.7 923.5,131.5 924.0,134.0 924.5,136.0 925.0,137.6 925.5,138.6 926.0,139.4 926.5,140.2 927.0,140.9 927.5,141.5 928.0,141.9 928.5,142.2 929.0,142.3 929.5,142.1 930.0,141.4 930.5,140.4 931.0,139.2 931.5,137.7 932.0,136.1 932.5,134.5 933.0,132.9 933.5,131.4 934.0,130.0 934.5,128.9 935.0,128.1 935.5,127.7 936.0,127.9 936.5,128.8 937.0,130.5 937.5,132.8 938.0,135.4 938.5,138.2 939.0,141.1 939.5,144.0 940.0,146.5 940.5,148.7 941.0,150.2 941.5,151.0 942.0,151.0 942.5,150.3 943.0,149.0 943.5,147.2 944.0,144.9 944.5,142.4 945.0,139.5 945.5,136.4 946.0,133.3 946.5,130.0 947.0,126.8 947.5,123.7 948.0,120.8 948.5,118.1 949.0,115.7 949.5,113.7 950.0,112.2 950.5,111.2 951.0,110.9 951.5,112.2 952.0,115.7 952.5,120.9 953.0,127.3 953.5,134.5 954.0,142.0 954.5,149.2 955.0,155.6 955.5,160.8 956.0,164.3 956.5,165.6 957.0,162.7 957.5,156.0 958.0,148.5 958.5,143.1 959.0,140.8 959.5,138.9 960.0,137.5 960.5,136.4 961.0,135.6 961.5,135.0 962.0,134.5 962.5,134.0 963.0,133.6 963.5,133.2 964.0,132.9 964.5,132.7 965.0,132.6 965.5,132.5 966.0,132.6 966.5,133.1 967.0,133.9 967.5,135.0 968.0,136.2 968.5,137.5 969.0,139.0 969.5,140.4 970.0,141.8 970.5,143.0 971.0,144.1 971.5,144.9 972.0,145.5 972.5,145.7 973.0,145.3 973.5,144.2 974.0,142.6 974.5,140.5 975.0,138.2 975.5,135.6 976.0,133.0 976.5,130.6 977.0,128.3 977.5,126.4 978.0,125.0 978.5,124.1 979.0,124.1 979.5,124.7 980.0,125.9 980.5,127.7 981.0,129.9 981.5,132.5 982.0,135.4 982.5,138.4 983.0,141.6 983.5,144.7 984.0,147.8 984.5,150.8 985.0,153.5 985.5,155.9 986.0,157.8 986.5,159.3 987.0,160.2 987.5,160.4 988.0,158.9 988.5,155.7 989.0,151.0 989.5,145.4 990.0,139.2 990.5,132.7 991.0,126.4 991.5,120.6 992.0,115.8 992.5,112.2 993.0,110.4 993.5,111.0 994.0,115.0 994.5,121.0 995.0,127.4 995.5,132.6 996.0,135.6 996.5,137.9 997.0,139.8 997.5,141.2 998.0,142.3 998.5,143.3 999.0,144.1 999.5,144.7 1000.0,144.8 1000.5,144.4 1001.0,143.6 1001.5,142.5 1002.0,141.0 1002.5,139.2 1003.0,137.3 1003.5,135.3 1004.0,133.2 1004.5,131.1 1005.0,129.1 1005.5,127.2 1006.0,125.6 1006.5,124.2 1007.0,123.2 1007.5,122.6 1008.0,122.4 1008.5,123.5 1009.0,125.8 1009.5,129.1 1010.0,133.2 1010.5,137.6 1011.0,142.1 1011.5,146.5 1012.0,150.4 1012.5,153.5 1013.0,155.6 1013.5,156.4 1014.0,155.2 1014.5,152.1 1015.0,147.9 1015.5,143.4 1016.0,139.2 1016.5,136.1 1017.0,134.9 1017.5,135.2 1018.0,135.7 1018.5,136.2 1019.0,136.5 1019.5,136.3 1020.0,135.7 1020.5,134.7 1021.0,133.5 1021.5,132.0 1022.0,130.4 1022.5,128.8 1023.0,127.1 1023.5,125.4 1024.0,123.9 1024.5,122.5 1025.0,121.4 1025.5,120.6 1026.0,120.1 1026.5,120.1 1027.0,121.5 1027.5,124.2 1028.0,127.8 1028.5,132.2 1029.0,136.9 1029.5,141.9 1030.0,146.6 1030.5,151.0 1031.0,154.6 1031.5,157.3 1032.0,158.7 1032.5,158.2 1033.0,155.1 1033.5,150.1 1034.0,144.0 1034.5,137.6 1035.0,131.8 1035.5,127.4 1036.0,125.4 1036.5,126.0 1037.0,128.6 1037.5,132.5 1038.0,136.9 1038.5,141.3 1039.0,144.9 1039.5,147.2 1040.0,147.6 1040.5,147.0 1041.0,146.0 1041.5,144.6 1042.0,142.7 1042.5,140.5 1043.0,138.1 1043.5,135.5 1044.0,132.8 1044.5,130.0 1045.0,127.2 1045.5,124.5 1046.0,122.0 1046.5,119.6 1047.0,117.5 1047.5,115.7 1048.0,114.3 1048.5,113.4 1049.0,113.0 1049.5,113.8 1050.0,116.7 1050.5,121.2 1051.0,127.1 1051.5,133.7 1052.0,140.6 1052.5,147.4 1053.0,153.6 1053.5,158.8 1054.0,162.4 1054.5,164.0 1055.0,162.1 1055.5,155.6 1056.0,147.8 1056.5,141.7 1057.0,138.7 1057.5,136.2 1058.0,134.1 1058.5,132.6 1059.0,131.7 1059.5,130.9 1060.0,130.2 1060.5,129.7 1061.0,129.4 1061.5,129.3 1062.0,129.8 1062.5,130.8 1063.0,132.2 1063.5,133.9 1064.0,135.9 1064.5,138.0 1065.0,140.2 1065.5,142.4 1066.0,144.6 1066.5,146.6 1067.0,148.4 1067.5,149.8 1068.0,150.9 1068.5,151.5 1069.0,151.5 1069.5,150.3 1070.0,148.1 1070.5,145.1 1071.0,141.4 1071.5,137.4 1072.0,133.2 1072.5,129.1 1073.0,125.2 1073.5,121.9 1074.0,119.3 1074.5,117.7 1075.0,117.3 1075.5,118.8 1076.0,121.9 1076.5,125.9 1077.0,130.3 1077.5,134.3 1078.0,137.4 1078.5,138.9 1079.0,138.8 1079.5,138.3 1080.0,137.8 1080.5,137.4 1081.0,137.3 1081.5,137.7 1082.0,138.4 1082.5,139.5 1083.0,140.8 1083.5,142.2 1084.0,143.8 1084.5,145.4 1085.0,147.0 1085.5,148.6 1086.0,150.0 1086.5,151.2 1087.0,152.2 1087.5,152.9 1088.0,153.2 1088.5,152.7 1089.0,150.6 1089.5,147.3 1090.0,143.2 1090.5,138.4 1091.0,133.4 1091.5,128.5 1092.0,124.0 1092.5,120.1 1093.0,117.3 1093.5,115.8 1094.0,116.2 1094.5,118.9 1095.0,123.2 1095.5,128.6 1096.0,134.2 1096.5,139.5 1097.0,143.5 1097.5,145.8 1098.0,145.7 1098.5,144.1 1099.0,141.5 1099.5,138.5 1100.0,135.6 1100.5,133.2 1101.0,131.8 1101.5,131.8 1102.0,132.3 1102.5,133.3 1103.0,134.6 1103.5,136.1 1104.0,137.9 1104.5,139.8 1105.0,141.8 1105.5,143.9 1106.0,145.8 1106.5,147.6 1107.0,149.2 1107.5,150.6 1108.0,151.6 1108.5,152.2 1109.0,152.4 1109.5,151.8 1110.0,150.3 1110.5,148.2 1111.0,145.3 1111.5,141.9 1112.0,138.0 1112.5,133.7 1113.0,129.1 1113.5,124.1 1114.0,119.0 1114.1,118.0" stroke="#000000"/>
</g>
<g id="plot2">
<path d="M767.1,355.2v-6.0M767.1,6.2v6.0M882.8,355.2v-6.0M882.8,6.2v6.0M998.4,355.2v-6.0M998.4,6.2v6.0M651.5,49.8h6.0M1114.1,49.8h-6.0M651.5,137.1h6.0M1114.1,137.1h-6.0M651.5,224.3h6.0M1114.1,224.3h-6.0M651.5,311.6h6.0M1114.1,311.6h-6.0" stroke="#262626" stroke-width="2.8" fill="none"/>
<rect x="651.5" y="6.2" width="462.6" height="349.0" fill="none" stroke="#262626" stroke-width="3.1"/>
<text class="t" transform="translate(651.5,385.7) scale(1.05,1)" font-size="22.43px" text-anchor="middle">0</text>
<text class="t" transform="translate(767.1,385.7) scale(1.05,1)" font-size="22.43px" text-anchor="middle">500</text>
<text class="t" transform="translate(882.8,385.7) scale(1.05,1)" font-size="22.43px" text-anchor="middle">1000</text>
<text class="t" transform="translate(998.4,385.7) scale(1.05,1)" font-size="22.43px" text-anchor="middle">1500</text>
<text class="t" transform="translate(1114.1,385.7) scale(1.05,1)" font-size="22.43px" text-anchor="middle">2000</text>
<text class="t" transform="translate(644.1,59.2) scale(1.05,1)" font-size="22.43px" text-anchor="end">0.2</text>
<text class="t" transform="translate(644.1,146.5) scale(1.05,1)" font-size="22.43px" text-anchor="end">0</text>
<text class="t" transform="translate(644.1,233.7) scale(1.05,1)" font-size="22.43px" text-anchor="end">-0.2</text>
<text class="t" transform="translate(644.1,321.0) scale(1.05,1)" font-size="22.43px" text-anchor="end">-0.4</text>
<text class="t" transform="translate(882.8,417.7) scale(1.0,1)" font-size="25.64px" text-anchor="middle">t /s</text>
<text class="t" transform="translate(595.6,180.7) rotate(-90)" font-size="25.64px" text-anchor="middle">y</text>
</g>
<g class="legend">
<path d="M842.2,29.5h31.6" stroke="#ff0000" stroke-width="1.7"/>
<path d="M842.2,56.6h31.6" stroke="#000000" stroke-width="1.7"/>
<text class="t" transform="translate(876.6,37.8) scale(1.05,1)" font-size="20.3px" text-anchor="start" style="fill:#000;stroke:#000">Incremental initial value</text>
<text class="t" transform="translate(876.6,64.9) scale(1.05,1)" font-size="20.3px" text-anchor="start" style="fill:#000;stroke:#000">Initial value of reference</text>
</g>
<clipPath id="clipi2"><rect x="764.7" y="209.4" width="228.2" height="110.5"/></clipPath>
<g clip-path="url(#clipi2)" fill="none" stroke-width="1.7" stroke-linejoin="round" stroke-linecap="butt">
<path d="M764.7,285.8 765.2,286.0 765.7,286.2 766.2,286.3 766.7,286.5 767.2,286.6 767.7,286.8 768.2,286.9 768.7,287.1 769.2,287.2 769.7,287.3 770.2,287.4 770.7,287.5 771.2,287.6 771.7,287.7 772.2,287.7 772.7,287.8 773.2,287.9 773.7,287.9 774.2,288.0 774.7,288.1 775.2,288.1 775.7,288.2 776.2,288.2 776.7,288.2 777.2,288.3 777.7,288.3 778.2,288.3 778.7,288.3 779.2,288.4 779.7,288.4 780.2,288.4 780.7,288.4 781.2,288.4 781.7,288.4 782.2,288.4 782.7,288.3 783.2,288.3 783.7,288.3 784.2,288.2 784.7,288.2 785.2,288.1 785.7,288.0 786.2,287.9 786.7,287.8 787.2,287.7 787.7,287.6 788.2,287.4 788.7,287.2 789.2,287.1 789.7,286.8 790.2,286.6 790.7,286.4 791.2,286.1 791.7,285.8 792.2,285.5 792.7,285.2 793.2,284.9 793.7,284.5 794.2,284.2 794.7,283.8 795.2,283.4 795.7,283.0 796.2,282.6 796.7,282.2 797.2,281.8 797.7,281.4 798.2,280.9 798.7,280.5 799.2,280.0 799.7,279.5 800.2,279.1 800.7,278.6 801.2,278.1 801.7,277.6 802.2,277.1 802.7,276.6 803.2,276.0 803.7,275.5 804.2,275.0 804.7,274.4 805.2,273.9 805.7,273.3 806.2,272.8 806.7,272.2 807.2,271.7 807.7,271.1 808.2,270.6 808.7,270.0 809.2,269.5 809.7,268.9 810.2,268.3 810.7,267.8 811.2,267.2 811.7,266.7 812.2,266.1 812.7,265.5 813.2,265.0 813.7,264.4 814.2,263.9 814.7,263.3 815.2,262.8 815.7,262.2 816.2,261.6 816.7,261.1 817.2,260.5 817.7,260.0 818.2,259.4 818.7,258.9 819.2,258.3 819.7,257.7 820.2,257.2 820.7,256.6 821.2,256.1 821.7,255.5 822.2,255.0 822.7,254.4 823.2,253.9 823.7,253.3 824.2,252.8 824.7,252.2 825.2,251.7 825.7,251.2 826.2,250.6 826.7,250.1 827.2,249.5 827.7,249.0 828.2,248.4 828.7,247.9 829.2,247.4 829.7,246.8 830.2,246.3 830.7,245.7 831.2,245.2 831.7,244.7 832.2,244.1 832.7,243.6 833.2,243.1 833.7,242.5 834.2,242.0 834.7,241.5 835.2,240.9 835.7,240.4 836.2,239.9 836.7,239.3 837.2,238.8 837.7,238.3 838.2,237.8 838.7,237.3 839.2,236.8 839.7,236.4 840.2,236.0 840.7,235.6 841.2,235.2 841.7,234.8 842.2,234.5 842.7,234.2 843.2,233.8 843.7,233.6 844.2,233.3 844.7,233.0 845.2,232.8 845.7,232.6 846.2,232.4 846.7,232.2 847.2,232.1 847.7,232.0 848.2,231.8 848.7,231.8 849.2,231.7 849.7,231.6 850.2,231.6 850.7,231.6 851.2,231.6 851.7,231.6 852.2,231.7 852.7,231.8 853.2,231.8 853.7,232.0 854.2,232.1 854.7,232.3 855.2,232.4 855.7,232.6 856.2,232.9 856.7,233.1 857.2,233.4 857.7,233.6 858.2,233.9 858.7,234.2 859.2,234.6 859.7,234.9 860.2,235.3 860.7,235.6 861.2,236.0 861.7,236.4 862.2,236.8 862.7,237.3 863.2,237.7 863.7,238.2 864.2,238.6 864.7,239.1 865.2,239.6 865.7,240.1 866.2,240.6 866.7,241.1 867.2,241.6 867.7,242.1 868.2,242.5 868.7,243.0 869.2,243.5 869.7,244.0 870.2,244.4 870.7,244.9 871.2,245.3 871.7,245.8 872.2,246.2 872.7,246.6 873.2,247.0 873.7,247.3 874.2,247.7 874.7,248.1 875.2,248.5 875.7,248.8 876.2,249.2 876.7,249.5 877.2,249.9 877.7,250.2 878.2,250.6 878.7,250.9 879.2,251.3 879.7,251.7 880.2,252.0 880.7,252.4 881.2,252.7 881.7,253.1 882.2,253.5 882.7,253.8 883.2,254.2 883.7,254.6 884.2,255.0 884.7,255.4 885.2,255.8 885.7,256.3 886.2,256.8 886.7,257.3 887.2,257.8 887.7,258.4 888.2,259.0 888.7,259.5 889.2,260.1 889.7,260.6 890.2,261.2 890.7,261.7 891.2,262.2 891.7,262.7 892.2,263.1 892.7,263.5 893.2,263.9 893.7,264.2 894.2,264.5 894.7,264.8 895.2,265.1 895.7,265.4 896.2,265.7 896.7,266.0 897.2,266.2 897.7,266.5 898.2,266.7 898.7,267.0 899.2,267.2 899.7,267.5 900.2,267.7 900.7,268.0 901.2,268.2 901.7,268.5 902.2,268.8 902.7,269.1 903.2,269.4 903.7,269.8 904.2,270.1 904.7,270.5 905.2,270.8 905.7,271.2 906.2,271.5 906.7,271.9 907.2,272.2 907.7,272.6 908.2,272.9 908.7,273.3 909.2,273.6 909.7,274.0 910.2,274.4 910.7,274.7 911.2,275.1 911.7,275.5 912.2,275.8 912.7,276.2 913.2,276.6 913.7,277.0 914.2,277.4 914.7,277.8 915.2,278.2 915.7,278.6 916.2,279.1 916.7,279.5 917.2,279.9 917.7,280.4 918.2,280.8 918.7,281.2 919.2,281.7 919.7,282.1 920.2,282.6 920.7,283.0 921.2,283.5 921.7,283.9 922.2,284.4 922.7,284.9 923.2,285.3 923.7,285.8 924.2,286.3 924.7,286.7 925.2,287.2 925.7,287.7 926.2,288.1 926.7,288.6 927.2,289.1 927.7,289.5 928.2,290.0 928.7,290.5 929.2,290.9 929.7,291.4 930.2,291.9 930.7,292.3 931.2,292.8 931.7,293.3 932.2,293.7 932.7,294.2 933.2,294.6 933.7,295.1 934.2,295.6 934.7,296.0 935.2,296.5 935.7,296.9 936.2,297.3 936.7,297.8 937.2,298.2 937.7,298.7 938.2,299.1 938.7,299.6 939.2,300.0 939.7,300.4 940.2,300.9 940.7,301.3 941.2,301.7 941.7,302.2 942.2,302.6 942.7,303.0 943.2,303.5 943.7,303.9 944.2,304.3 944.7,304.7 945.2,305.2 945.7,305.6 946.2,306.0 946.7,306.4 947.2,306.8 947.7,307.2 948.2,307.6 948.7,308.0 949.2,308.5 949.7,308.9 950.2,309.3 950.7,309.7 951.2,310.0 951.7,310.4 952.2,310.8 952.7,311.2 953.2,311.6 953.7,312.0 954.2,312.4 954.7,312.7 955.2,313.1 955.7,313.5 956.2,313.8 956.7,314.2 957.2,314.5 957.7,314.8 958.2,315.1 958.7,315.3 959.2,315.6 959.7,315.8 960.2,316.1 960.7,316.3 961.2,316.5 961.7,316.7 962.2,316.9 962.7,317.1 963.2,317.3 963.7,317.5 964.2,317.7 964.7,317.8 965.2,318.0 965.7,318.2 966.2,318.3 966.7,318.5 967.2,318.6 967.7,318.7 968.2,318.9 968.7,319.0 969.2,319.2 969.7,319.3 970.2,319.4 970.7,319.6 971.2,319.7 971.7,319.8 972.2,319.9 972.7,320.0 973.2,320.1 973.7,320.1 974.2,320.2 974.7,320.2 975.2,320.2 975.7,320.2 976.2,320.2 976.7,320.2 977.2,320.2 977.7,320.2 978.2,320.1 978.7,320.1 979.2,320.0 979.7,319.9 980.2,319.7 980.7,319.6 981.2,319.4 981.7,319.2 982.2,319.0 982.7,318.7 983.2,318.4 983.7,318.2 984.2,317.9 984.7,317.5 985.2,317.2 985.7,316.9 986.2,316.5 986.7,316.1 987.2,315.7 987.7,315.2 988.2,314.7 988.7,314.1 989.2,313.4 989.7,312.8 990.2,312.0 990.7,311.3 991.2,310.5 991.7,309.6 992.2,308.8 992.7,307.9 992.9,307.5" stroke="#ff0000"/>
<path d="M764.7,285.8 765.2,286.0 765.7,286.2 766.2,286.3 766.7,286.5 767.2,286.7 767.7,286.8 768.2,286.9 768.7,287.1 769.2,287.2 769.7,287.3 770.2,287.4 770.7,287.5 771.2,287.6 771.7,287.7 772.2,287.8 772.7,287.8 773.2,287.9 773.7,288.0 774.2,288.0 774.7,288.1 775.2,288.1 775.7,288.2 776.2,288.2 776.7,288.2 777.2,288.3 777.7,288.3 778.2,288.3 778.7,288.3 779.2,288.3 779.7,288.4 780.2,288.4 780.7,288.4 781.2,288.4 781.7,288.4 782.2,288.4 782.7,288.3 783.2,288.3 783.7,288.3 784.2,288.2 784.7,288.1 785.2,288.1 785.7,288.0 786.2,287.9 786.7,287.8 787.2,287.6 787.7,287.5 788.2,287.3 788.7,287.1 789.2,286.9 789.7,286.7 790.2,286.5 790.7,286.2 791.2,286.0 791.7,285.7 792.2,285.3 792.7,285.0 793.2,284.6 793.7,284.3 794.2,283.9 794.7,283.5 795.2,283.1 795.7,282.7 796.2,282.2 796.7,281.8 797.2,281.3 797.7,280.9 798.2,280.4 798.7,279.9 799.2,279.4 799.7,278.9 800.2,278.4 800.7,277.9 801.2,277.4 801.7,276.8 802.2,276.3 802.7,275.7 803.2,275.2 803.7,274.6 804.2,274.0 804.7,273.5 805.2,272.9 805.7,272.3 806.2,271.7 806.7,271.1 807.2,270.5 807.7,269.9 808.2,269.3 808.7,268.7 809.2,268.1 809.7,267.5 810.2,266.9 810.7,266.3 811.2,265.7 811.7,265.1 812.2,264.5 812.7,263.9 813.2,263.3 813.7,262.7 814.2,262.1 814.7,261.5 815.2,260.9 815.7,260.3 816.2,259.7 816.7,259.1 817.2,258.5 817.7,257.9 818.2,257.3 818.7,256.7 819.2,256.1 819.7,255.5 820.2,255.0 820.7,254.4 821.2,253.8 821.7,253.2 822.2,252.6 822.7,252.0 823.2,251.5 823.7,250.9 824.2,250.3 824.7,249.7 825.2,249.2 825.7,248.6 826.2,248.1 826.7,247.5 827.2,246.9 827.7,246.4 828.2,245.8 828.7,245.3 829.2,244.7 829.7,244.2 830.2,243.6 830.7,243.1 831.2,242.5 831.7,242.0 832.2,241.5 832.7,240.9 833.2,240.4 833.7,239.9 834.2,239.3 834.7,238.8 835.2,238.3 835.7,237.8 836.2,237.2 836.7,236.7 837.2,236.2 837.7,235.7 838.2,235.3 838.7,234.8 839.2,234.4 839.7,234.1 840.2,233.7 840.7,233.4 841.2,233.1 841.7,232.9 842.2,232.7 842.7,232.5 843.2,232.3 843.7,232.1 844.2,232.0 844.7,231.9 845.2,231.8 845.7,231.7 846.2,231.7 846.7,231.6 847.2,231.6 847.7,231.6 848.2,231.6 848.7,231.6 849.2,231.7 849.7,231.7 850.2,231.8 850.7,231.9 851.2,232.0 851.7,232.1 852.2,232.2 852.7,232.4 853.2,232.6 853.7,232.7 854.2,233.0 854.7,233.2 855.2,233.4 855.7,233.7 856.2,234.0 856.7,234.3 857.2,234.7 857.7,235.1 858.2,235.4 858.7,235.9 859.2,236.3 859.7,236.8 860.2,237.3 860.7,237.7 861.2,238.2 861.7,238.7 862.2,239.2 862.7,239.8 863.2,240.3 863.7,240.8 864.2,241.3 864.7,241.8 865.2,242.4 865.7,242.9 866.2,243.4 866.7,244.0 867.2,244.5 867.7,245.0 868.2,245.5 868.7,246.0 869.2,246.5 869.7,247.0 870.2,247.5 870.7,248.0 871.2,248.5 871.7,248.9 872.2,249.4 872.7,249.8 873.2,250.3 873.7,250.7 874.2,251.1 874.7,251.6 875.2,252.0 875.7,252.4 876.2,252.9 876.7,253.3 877.2,253.7 877.7,254.1 878.2,254.6 878.7,255.0 879.2,255.4 879.7,255.8 880.2,256.3 880.7,256.7 881.2,257.1 881.7,257.6 882.2,258.0 882.7,258.4 883.2,258.9 883.7,259.3 884.2,259.8 884.7,260.2 885.2,260.7 885.7,261.2 886.2,261.6 886.7,262.2 887.2,262.7 887.7,263.2 888.2,263.8 888.7,264.3 889.2,264.8 889.7,265.4 890.2,265.9 890.7,266.4 891.2,266.9 891.7,267.4 892.2,267.9 892.7,268.3 893.2,268.7 893.7,269.1 894.2,269.5 894.7,269.8 895.2,270.1 895.7,270.4 896.2,270.7 896.7,271.0 897.2,271.3 897.7,271.6 898.2,271.8 898.7,272.1 899.2,272.4 899.7,272.6 900.2,272.9 900.7,273.2 901.2,273.5 901.7,273.8 902.2,274.1 902.7,274.4 903.2,274.8 903.7,275.1 904.2,275.5 904.7,275.9 905.2,276.3 905.7,276.7 906.2,277.1 906.7,277.5 907.2,277.9 907.7,278.3 908.2,278.7 908.7,279.2 909.2,279.6 909.7,280.0 910.2,280.4 910.7,280.8 911.2,281.2 911.7,281.6 912.2,282.1 912.7,282.5 913.2,282.9 913.7,283.3 914.2,283.7 914.7,284.2 915.2,284.6 915.7,285.0 916.2,285.5 916.7,285.9 917.2,286.3 917.7,286.8 918.2,287.2 918.7,287.7 919.2,288.1 919.7,288.6 920.2,289.0 920.7,289.5 921.2,289.9 921.7,290.4 922.2,290.8 922.7,291.3 923.2,291.8 923.7,292.2 924.2,292.7 924.7,293.2 925.2,293.6 925.7,294.1 926.2,294.6 926.7,295.1 927.2,295.5 927.7,296.0 928.2,296.5 928.7,296.9 929.2,297.4 929.7,297.9 930.2,298.3 930.7,298.8 931.2,299.3 931.7,299.7 932.2,300.2 932.7,300.6 933.2,301.1 933.7,301.5 934.2,302.0 934.7,302.4 935.2,302.9 935.7,303.3 936.2,303.7 936.7,304.2 937.2,304.6 937.7,305.0 938.2,305.4 938.7,305.8 939.2,306.2 939.7,306.5 940.2,306.9 940.7,307.3 941.2,307.6 941.7,308.0 942.2,308.3 942.7,308.7 943.2,309.0 943.7,309.4 944.2,309.7 944.7,310.0 945.2,310.3 945.7,310.6 946.2,311.0 946.7,311.3 947.2,311.6 947.7,311.9 948.2,312.2 948.7,312.5 949.2,312.8 949.7,313.1 950.2,313.3 950.7,313.6 951.2,313.9 951.7,314.2 952.2,314.5 952.7,314.8 953.2,315.0 953.7,315.3 954.2,315.6 954.7,315.9 955.2,316.2 955.7,316.4 956.2,316.7 956.7,316.9 957.2,317.2 957.7,317.4 958.2,317.6 958.7,317.8 959.2,317.9 959.7,318.1 960.2,318.3 960.7,318.4 961.2,318.6 961.7,318.7 962.2,318.8 962.7,318.9 963.2,319.1 963.7,319.2 964.2,319.2 964.7,319.3 965.2,319.4 965.7,319.5 966.2,319.5 966.7,319.6 967.2,319.6 967.7,319.7 968.2,319.7 968.7,319.8 969.2,319.8 969.7,319.8 970.2,319.8 970.7,319.8 971.2,319.7 971.7,319.6 972.2,319.5 972.7,319.4 973.2,319.2 973.7,319.0 974.2,318.8 974.7,318.6 975.2,318.3 975.7,318.0 976.2,317.7 976.7,317.4 977.2,317.0 977.7,316.7 978.2,316.3 978.7,315.9 979.2,315.5 979.7,315.0 980.2,314.6 980.7,314.1 981.2,313.6 981.7,313.1 982.2,312.6 982.7,312.0 983.2,311.4 983.7,310.8 984.2,310.1 984.7,309.4 985.2,308.8 985.7,308.0 986.2,307.3 986.7,306.5 987.2,305.8 987.7,304.9 988.2,304.1 988.7,303.3 989.2,302.4 989.7,301.5 990.2,300.6 990.7,299.7 991.2,298.7 991.7,297.8 992.2,296.8 992.7,295.8 992.9,295.4" stroke="#000000"/>
</g>
<g id="inset2">
<path d="M821.8,319.9v-3.6M821.8,209.4v3.6M878.8,319.9v-3.6M878.8,209.4v3.6M935.9,319.9v-3.6M935.9,209.4v3.6M764.7,218.6h3.6M992.9,218.6h-3.6M764.7,264.6h3.6M992.9,264.6h-3.6M764.7,310.7h3.6M992.9,310.7h-3.6" stroke="#262626" stroke-width="2.2" fill="none"/>
<rect x="764.7" y="209.4" width="228.2" height="110.5" fill="none" stroke="#262626" stroke-width="2.3"/>
<text class="t" transform="translate(764.7,345.7) scale(1.02,1)" font-size="18.5px" text-anchor="middle">320</text>
<text class="t" transform="translate(821.8,345.7) scale(1.02,1)" font-size="18.5px" text-anchor="middle">340</text>
<text class="t" transform="translate(878.8,345.7) scale(1.02,1)" font-size="18.5px" text-anchor="middle">360</text>
<text class="t" transform="translate(935.9,345.7) scale(1.02,1)" font-size="18.5px" text-anchor="middle">380</text>
<text class="t" transform="translate(992.9,345.7) scale(1.02,1)" font-size="18.5px" text-anchor="middle">400</text>
<text class="t" transform="translate(756.7,226.6) scale(1.02,1)" font-size="18.5px" text-anchor="end">0.05</text>
<text class="t" transform="translate(756.7,272.6) scale(1.02,1)" font-size="18.5px" text-anchor="end">0</text>
<text class="t" transform="translate(756.7,318.7) scale(1.02,1)" font-size="18.5px" text-anchor="end">-0.05</text>
</g>
<clipPath id="clipp3"><rect x="1230.6" y="6.3" width="466.9" height="354.1"/></clipPath>
<g clip-path="url(#clipp3)" fill="none" stroke-width="1.75" stroke-linejoin="round" stroke-linecap="butt">
<path d="M1230.6,124.3 1231.1,124.0 1231.6,123.5 1232.1,122.9 1232.6,122.1 1233.1,121.2 1233.6,120.3 1234.1,119.2 1234.6,118.1 1235.1,116.8 1235.6,115.6 1236.1,114.2 1236.6,112.9 1237.1,111.5 1237.6,109.9 1238.1,107.9 1238.6,105.5 1239.1,103.1 1239.6,100.9 1240.1,99.2 1240.6,97.9 1241.1,96.6 1241.6,95.3 1242.1,94.1 1242.6,92.9 1243.1,91.8 1243.6,90.8 1244.1,89.9 1244.6,89.1 1245.1,88.5 1245.6,87.9 1246.1,87.6 1246.6,87.4 1247.1,87.5 1247.6,88.0 1248.1,88.8 1248.6,90.0 1249.1,91.6 1249.6,93.4 1250.1,95.5 1250.6,97.9 1251.1,100.4 1251.6,104.2 1252.1,111.0 1252.6,119.4 1253.1,128.3 1253.6,136.2 1254.1,141.9 1254.6,145.4 1255.1,147.6 1255.6,147.6 1256.1,147.3 1256.6,146.8 1257.1,146.3 1257.6,145.9 1258.1,145.7 1258.6,146.1 1259.1,147.3 1259.6,149.1 1260.1,151.1 1260.6,153.1 1261.1,154.5 1261.6,155.4 1262.1,156.3 1262.6,157.2 1263.1,158.1 1263.6,158.8 1264.1,159.6 1264.6,160.2 1265.1,160.7 1265.6,161.0 1266.1,161.2 1266.6,161.3 1267.1,161.0 1267.6,160.2 1268.1,159.1 1268.6,157.6 1269.1,155.8 1269.6,153.8 1270.1,151.6 1270.6,149.2 1271.1,145.5 1271.6,139.0 1272.1,130.7 1272.6,121.9 1273.1,113.8 1273.6,107.7 1274.1,104.9 1274.6,104.2 1275.1,103.9 1275.6,104.4 1276.1,105.4 1276.6,106.4 1277.1,106.9 1277.6,106.4 1278.1,105.0 1278.6,103.1 1279.1,100.8 1279.6,98.4 1280.1,96.1 1280.6,94.2 1281.1,92.9 1281.6,92.0 1282.1,91.1 1282.6,90.3 1283.1,89.5 1283.6,88.8 1284.1,88.2 1284.6,87.6 1285.1,87.2 1285.6,86.8 1286.1,86.6 1286.6,86.6 1287.1,87.0 1287.6,87.9 1288.1,89.2 1288.6,90.8 1289.1,92.8 1289.6,95.0 1290.1,97.5 1290.6,102.2 1291.1,109.4 1291.6,118.0 1292.1,127.1 1292.6,135.6 1293.1,142.4 1293.6,146.7 1294.1,149.2 1294.6,151.1 1295.1,151.7 1295.6,151.6 1296.1,151.5 1296.6,151.2 1297.1,150.9 1297.6,150.6 1298.1,150.3 1298.6,150.1 1299.1,149.9 1299.6,149.7 1300.1,149.7 1300.6,149.9 1301.1,150.3 1301.6,150.8 1302.1,151.6 1302.6,152.4 1303.1,153.3 1303.6,154.2 1304.1,155.1 1304.6,156.0 1305.1,156.7 1305.6,157.4 1306.1,157.9 1306.6,158.2 1307.1,158.3 1307.6,157.9 1308.1,157.0 1308.6,155.7 1309.1,154.0 1309.6,152.2 1310.1,150.2 1310.6,148.1 1311.1,146.0 1311.6,144.1 1312.1,142.3 1312.6,140.9 1313.1,139.8 1313.6,139.2 1314.1,139.2 1314.6,140.6 1315.1,143.1 1315.6,146.1 1316.1,149.2 1316.6,151.7 1317.1,153.2 1317.6,154.6 1318.1,155.8 1318.6,157.1 1319.1,158.2 1319.6,159.3 1320.1,160.3 1320.6,161.1 1321.1,161.8 1321.6,162.2 1322.1,162.5 1322.6,162.6 1323.1,162.3 1323.6,161.7 1324.1,160.8 1324.6,159.6 1325.1,158.1 1325.6,156.3 1326.1,154.3 1326.6,152.1 1327.1,149.4 1327.6,143.3 1328.1,134.5 1328.6,124.7 1329.1,115.2 1329.6,107.8 1330.1,103.5 1330.6,100.2 1331.1,97.5 1331.6,95.7 1332.1,95.2 1332.6,95.0 1333.1,94.8 1333.6,94.6 1334.1,94.6 1334.6,94.5 1335.1,94.5 1335.6,94.7 1336.1,95.1 1336.6,95.6 1337.1,96.1 1337.6,96.6 1338.1,97.0 1338.6,97.3 1339.1,97.3 1339.6,97.1 1340.1,96.7 1340.6,96.3 1341.1,95.7 1341.6,95.1 1342.1,94.4 1342.6,93.8 1343.1,93.1 1343.6,92.5 1344.1,92.0 1344.6,91.6 1345.1,91.4 1345.6,91.3 1346.1,91.6 1346.6,92.4 1347.1,93.5 1347.6,94.9 1348.1,96.4 1348.6,98.0 1349.1,99.6 1349.6,101.0 1350.1,102.3 1350.6,103.2 1351.1,103.8 1351.6,103.9 1352.1,103.6 1352.6,103.1 1353.1,102.4 1353.6,101.5 1354.1,100.5 1354.6,99.3 1355.1,98.0 1355.6,96.7 1356.1,95.3 1356.6,94.0 1357.1,92.7 1357.6,91.4 1358.1,90.3 1358.6,89.3 1359.1,88.5 1359.6,87.9 1360.1,87.5 1360.6,87.4 1361.1,87.7 1361.6,88.4 1362.1,89.5 1362.6,91.0 1363.1,92.7 1363.6,94.7 1364.1,96.9 1364.6,101.5 1365.1,109.4 1365.6,119.0 1366.1,128.7 1366.6,137.1 1367.1,142.5 1367.6,145.5 1368.1,148.0 1368.6,149.1 1369.1,149.0 1369.6,148.7 1370.1,148.2 1370.6,147.7 1371.1,147.2 1371.6,146.8 1372.1,146.7 1372.6,146.9 1373.1,147.4 1373.6,148.1 1374.1,149.1 1374.6,150.3 1375.1,151.5 1375.6,152.9 1376.1,154.3 1376.6,155.7 1377.1,157.0 1377.6,158.2 1378.1,159.3 1378.6,160.2 1379.1,160.8 1379.6,161.1 1380.1,161.0 1380.6,160.5 1381.1,159.5 1381.6,158.1 1382.1,156.4 1382.6,154.4 1383.1,152.2 1383.6,149.9 1384.1,147.3 1384.6,142.8 1385.1,136.8 1385.6,130.1 1386.1,123.4 1386.6,117.5 1387.1,113.0 1387.6,110.6 1388.1,109.4 1388.6,108.9 1389.1,109.7 1389.6,111.3 1390.1,113.1 1390.6,114.5 1391.1,114.7 1391.6,113.7 1392.1,111.7 1392.6,109.0 1393.1,106.0 1393.6,102.9 1394.1,100.0 1394.6,97.8 1395.1,96.5 1395.6,95.3 1396.1,94.2 1396.6,93.1 1397.1,92.1 1397.6,91.1 1398.1,90.3 1398.6,89.5 1399.1,88.8 1399.6,88.1 1400.1,87.7 1400.6,87.3 1401.1,87.1 1401.6,87.0 1402.1,87.3 1402.6,88.1 1403.1,89.3 1403.6,91.0 1404.1,93.0 1404.6,95.3 1405.1,97.8 1405.6,100.6 1406.1,105.2 1406.6,113.3 1407.1,123.3 1407.6,133.6 1408.1,142.7 1408.6,148.8 1409.1,150.5 1409.6,150.2 1410.1,149.7 1410.6,149.0 1411.1,148.3 1411.6,147.7 1412.1,147.2 1412.6,147.0 1413.1,147.5 1413.6,148.9 1414.1,150.7 1414.6,152.7 1415.1,154.4 1415.6,155.7 1416.1,156.6 1416.6,157.4 1417.1,158.3 1417.6,159.0 1418.1,159.7 1418.6,160.3 1419.1,160.7 1419.6,160.9 1420.1,161.0 1420.6,160.7 1421.1,160.0 1421.6,159.0 1422.1,157.8 1422.6,156.3 1423.1,154.8 1423.6,153.1 1424.1,151.4 1424.6,149.5 1425.1,146.7 1425.6,143.2 1426.1,139.4 1426.6,135.7 1427.1,132.4 1427.6,129.9 1428.1,128.5 1428.6,128.8 1429.1,131.2 1429.6,134.9 1430.1,139.4 1430.6,143.9 1431.1,147.8 1431.6,150.4 1432.1,151.7 1432.6,152.9 1433.1,154.0 1433.6,155.1 1434.1,156.0 1434.6,156.9 1435.1,157.8 1435.6,158.5 1436.1,159.1 1436.6,159.7 1437.1,160.1 1437.6,160.4 1438.1,160.6 1438.6,160.7 1439.1,160.6 1439.6,160.0 1440.1,159.2 1440.6,158.0 1441.1,156.5 1441.6,154.7 1442.1,152.8 1442.6,150.7 1443.1,146.9 1443.6,140.6 1444.1,133.0 1444.6,125.4 1445.1,118.9 1445.6,114.8 1446.1,112.3 1446.6,110.5 1447.1,109.9 1447.6,111.0 1448.1,112.9 1448.6,115.2 1449.1,117.0 1449.6,117.8 1450.1,116.7 1450.6,114.0 1451.1,110.4 1451.6,106.5 1452.1,103.1 1452.6,100.9 1453.1,99.6 1453.6,98.3 1454.1,97.1 1454.6,95.9 1455.1,94.8 1455.6,93.8 1456.1,92.8 1456.6,91.9 1457.1,91.1 1457.6,90.4 1458.1,89.7 1458.6,89.2 1459.1,88.7 1459.6,88.3 1460.1,88.1 1460.6,87.9 1461.1,87.9 1461.6,88.2 1462.1,89.0 1462.6,90.1 1463.1,91.6 1463.6,93.3 1464.1,95.2 1464.6,97.2 1465.1,99.4 1465.6,103.1 1466.1,108.4 1466.6,114.5 1467.1,120.6 1467.6,125.9 1468.1,129.6 1468.6,130.9 1469.1,131.2 1469.6,131.4 1470.1,131.5 1470.6,131.0 1471.1,130.0 1471.6,128.9 1472.1,128.1 1472.6,127.9 1473.1,129.5 1473.6,132.8 1474.1,137.1 1474.6,141.4 1475.1,144.9 1475.6,147.0 1476.1,148.4 1476.6,149.7 1477.1,151.0 1477.6,152.2 1478.1,153.3 1478.6,154.3 1479.1,155.3 1479.6,156.2 1480.1,157.0 1480.6,157.7 1481.1,158.3 1481.6,158.8 1482.1,159.2 1482.6,159.5 1483.1,159.7 1483.6,159.7 1484.1,159.5 1484.6,159.0 1485.1,158.3 1485.6,157.4 1486.1,156.3 1486.6,155.0 1487.1,153.7 1487.6,152.2 1488.1,150.7 1488.6,148.4 1489.1,145.0 1489.6,140.7 1490.1,135.9 1490.6,131.2 1491.1,126.8 1491.6,123.2 1492.1,120.7 1492.6,119.8 1493.1,121.7 1493.6,126.5 1494.1,132.4 1494.6,137.8 1495.1,141.2 1495.6,143.4 1496.1,145.2 1496.6,146.7 1497.1,147.9 1497.6,149.0 1498.1,150.1 1498.6,151.2 1499.1,152.2 1499.6,153.2 1500.1,154.1 1500.6,155.0 1501.1,155.8 1501.6,156.6 1502.1,157.2 1502.6,157.8 1503.1,158.3 1503.6,158.7 1504.1,158.9 1504.6,159.1 1505.1,159.1 1505.6,158.9 1506.1,158.5 1506.6,157.9 1507.1,157.1 1507.6,156.2 1508.1,155.2 1508.6,154.0 1509.1,152.8 1509.6,151.5 1510.1,150.0 1510.6,147.4 1511.1,143.8 1511.6,139.6 1512.1,135.1 1512.6,130.7 1513.1,126.9 1513.6,124.1 1514.1,122.5 1514.6,123.0 1515.1,126.3 1515.6,131.2 1516.1,136.6 1516.6,141.0 1517.1,143.5 1517.6,145.3 1518.1,146.8 1518.6,148.1 1519.1,149.3 1519.6,150.2 1520.1,151.0 1520.6,151.7 1521.1,152.5 1521.6,153.2 1522.1,153.8 1522.6,154.5 1523.1,155.1 1523.6,155.6 1524.1,156.1 1524.6,156.6 1525.1,156.9 1525.6,157.3 1526.1,157.5 1526.6,157.6 1527.1,157.7 1527.6,157.4 1528.1,156.2 1528.6,154.3 1529.1,151.8 1529.6,149.1 1530.1,146.2 1530.6,143.3 1531.1,140.6 1531.6,138.4 1532.1,136.7 1532.6,135.9 1533.1,136.1 1533.6,138.0 1534.1,140.9 1534.6,144.3 1535.1,147.6 1535.6,150.1 1536.1,151.5 1536.6,152.7 1537.1,153.9 1537.6,155.1 1538.1,156.1 1538.6,157.2 1539.1,158.1 1539.6,158.9 1540.1,159.7 1540.6,160.3 1541.1,160.9 1541.6,161.3 1542.1,161.6 1542.6,161.7 1543.1,161.6 1543.6,161.0 1544.1,159.9 1544.6,158.5 1545.1,156.6 1545.6,154.5 1546.1,152.2 1546.6,149.4 1547.1,143.9 1547.6,136.1 1548.1,127.3 1548.6,118.4 1549.1,110.8 1549.6,105.6 1550.1,102.5 1550.6,99.9 1551.1,97.9 1551.6,96.9 1552.1,96.9 1552.6,97.0 1553.1,97.0 1553.6,97.1 1554.1,97.2 1554.6,97.2 1555.1,97.3 1555.6,97.3 1556.1,97.3 1556.6,97.1 1557.1,96.7 1557.6,96.3 1558.1,95.8 1558.6,95.3 1559.1,94.7 1559.6,94.0 1560.1,93.4 1560.6,92.8 1561.1,92.2 1561.6,91.7 1562.1,91.2 1562.6,90.9 1563.1,90.6 1563.6,90.5 1564.1,90.7 1564.6,91.3 1565.1,92.4 1565.6,93.8 1566.1,95.4 1566.6,97.2 1567.1,99.1 1567.6,100.9 1568.1,102.6 1568.6,104.2 1569.1,105.5 1569.6,106.4 1570.1,106.9 1570.6,106.8 1571.1,106.4 1571.6,105.5 1572.1,104.4 1572.6,103.0 1573.1,101.4 1573.6,99.6 1574.1,97.8 1574.6,95.9 1575.1,94.0 1575.6,92.2 1576.1,90.5 1576.6,89.1 1577.1,87.8 1577.6,86.8 1578.1,86.2 1578.6,86.0 1579.1,86.2 1579.6,86.8 1580.1,87.8 1580.6,89.1 1581.1,90.6 1581.6,92.5 1582.1,94.6 1582.6,96.9 1583.1,101.5 1583.6,109.4 1584.1,119.1 1584.6,128.9 1585.1,137.3 1585.6,142.7 1586.1,146.0 1586.6,148.9 1587.1,150.9 1587.6,151.7 1588.1,151.7 1588.6,151.6 1589.1,151.5 1589.6,151.3 1590.1,151.2 1590.6,151.0 1591.1,150.8 1591.6,150.7 1592.1,150.5 1592.6,150.4 1593.1,150.3 1593.6,150.3 1594.1,150.4 1594.6,150.6 1595.1,151.0 1595.6,151.5 1596.1,152.1 1596.6,152.7 1597.1,153.4 1597.6,154.0 1598.1,154.6 1598.6,155.2 1599.1,155.7 1599.6,156.0 1600.1,156.2 1600.6,156.3 1601.1,156.0 1601.6,155.5 1602.1,154.6 1602.6,153.6 1603.1,152.4 1603.6,151.1 1604.1,149.7 1604.6,148.4 1605.1,147.1 1605.6,146.0 1606.1,145.0 1606.6,144.3 1607.1,143.8 1607.6,143.7 1608.1,144.4 1608.6,145.9 1609.1,147.7 1609.6,149.7 1610.1,151.6 1610.6,152.9 1611.1,154.1 1611.6,155.4 1612.1,156.6 1612.6,157.8 1613.1,158.8 1613.6,159.8 1614.1,160.6 1614.6,161.2 1615.1,161.6 1615.6,161.7 1616.1,161.4 1616.6,160.7 1617.1,159.6 1617.6,158.2 1618.1,156.6 1618.6,154.6 1619.1,152.5 1619.6,150.2 1620.1,145.6 1620.6,138.5 1621.1,130.2 1621.6,121.4 1622.1,113.5 1622.6,107.3 1623.1,103.7 1623.6,100.8 1624.1,99.1 1624.6,98.9 1625.1,99.0 1625.6,99.1 1626.1,99.2 1626.6,99.4 1627.1,99.6 1627.6,99.7 1628.1,99.8 1628.6,99.9 1629.1,99.9 1629.6,99.7 1630.1,99.2 1630.6,98.6 1631.1,97.9 1631.6,97.0 1632.1,96.0 1632.6,95.0 1633.1,94.0 1633.6,93.0 1634.1,92.0 1634.6,91.1 1635.1,90.3 1635.6,89.7 1636.1,89.2 1636.6,88.9 1637.1,89.0 1637.6,89.6 1638.1,90.9 1638.6,92.7 1639.1,94.8 1639.6,97.1 1640.1,99.6 1640.6,102.0 1641.1,104.5 1641.6,108.0 1642.1,112.0 1642.6,116.1 1643.1,119.8 1643.6,122.5 1644.1,123.8 1644.6,123.1 1645.1,120.6 1645.6,116.9 1646.1,112.5 1646.6,108.1 1647.1,104.2 1647.6,101.5 1648.1,100.2 1648.6,99.1 1649.1,98.0 1649.6,97.0 1650.1,96.0 1650.6,95.1 1651.1,94.2 1651.6,93.4 1652.1,92.7 1652.6,92.0 1653.1,91.4 1653.6,90.9 1654.1,90.5 1654.6,90.1 1655.1,89.8 1655.6,89.5 1656.1,89.4 1656.6,89.3 1657.1,89.5 1657.6,90.4 1658.1,92.0 1658.6,94.1 1659.1,96.6 1659.6,99.4 1660.1,102.3 1660.6,105.3 1661.1,108.0 1661.6,110.5 1662.1,112.5 1662.6,114.0 1663.1,114.7 1663.6,114.5 1664.1,112.7 1664.6,109.7 1665.1,106.2 1665.6,102.6 1666.1,99.4 1666.6,97.2 1667.1,95.9 1667.6,94.7 1668.1,93.6 1668.6,92.5 1669.1,91.5 1669.6,90.6 1670.1,89.7 1670.6,89.0 1671.1,88.4 1671.6,87.8 1672.1,87.4 1672.6,87.1 1673.1,87.0 1673.6,87.1 1674.1,87.7 1674.6,88.7 1675.1,90.2 1675.6,92.0 1676.1,94.1 1676.6,96.4 1677.1,100.4 1677.6,107.9 1678.1,117.6 1678.6,127.6 1679.1,136.3 1679.6,142.1 1680.1,144.8 1680.6,147.2 1681.1,148.9 1681.6,149.7 1682.1,149.7 1682.6,149.6 1683.1,149.4 1683.6,149.2 1684.1,149.1 1684.6,148.9 1685.1,148.8 1685.6,148.7 1686.1,148.8 1686.6,149.1 1687.1,149.6 1687.6,150.3 1688.1,151.1 1688.6,152.1 1689.1,153.1 1689.6,154.1 1690.1,155.1 1690.6,156.1 1691.1,157.1 1691.6,157.9 1692.1,158.7 1692.6,159.2 1693.1,159.6 1693.6,159.7 1694.1,159.5 1694.6,159.0 1695.1,158.2 1695.6,157.1 1696.1,155.9 1696.6,154.5 1697.1,153.0 1697.5,151.7" stroke="#ff0000"/>
<path d="M1230.6,124.3 1231.1,123.9 1231.6,123.3 1232.1,122.6 1232.6,121.8 1233.1,120.9 1233.6,119.8 1234.1,118.7 1234.6,117.5 1235.1,116.2 1235.6,114.9 1236.1,113.5 1236.6,112.1 1237.1,110.6 1237.6,108.7 1238.1,106.5 1238.6,104.1 1239.1,101.8 1239.6,99.8 1240.1,98.4 1240.6,97.1 1241.1,95.8 1241.6,94.6 1242.1,93.4 1242.6,92.3 1243.1,91.2 1243.6,90.3 1244.1,89.4 1244.6,88.7 1245.1,88.1 1245.6,87.7 1246.1,87.5 1246.6,87.4 1247.1,87.7 1247.6,88.4 1248.1,89.5 1248.6,90.9 1249.1,92.7 1249.6,94.7 1250.1,96.9 1250.6,99.4 1251.1,102.3 1251.6,108.0 1252.1,115.9 1252.6,124.8 1253.1,133.3 1253.6,140.0 1254.1,144.1 1254.6,147.0 1255.1,147.7 1255.6,147.4 1256.1,147.0 1256.6,146.5 1257.1,146.1 1257.6,145.8 1258.1,145.8 1258.6,146.7 1259.1,148.3 1259.6,150.3 1260.1,152.3 1260.6,154.0 1261.1,155.1 1261.6,156.0 1262.1,156.9 1262.6,157.7 1263.1,158.5 1263.6,159.3 1264.1,159.9 1264.6,160.5 1265.1,160.9 1265.6,161.2 1266.1,161.3 1266.6,161.2 1267.1,160.6 1267.6,159.6 1268.1,158.2 1268.6,156.6 1269.1,154.7 1269.6,152.5 1270.1,150.2 1270.6,147.4 1271.1,141.9 1271.6,134.1 1272.1,125.4 1272.6,116.9 1273.1,109.8 1273.6,105.6 1274.1,104.4 1274.6,104.0 1275.1,104.1 1275.6,105.0 1276.1,106.1 1276.6,106.8 1277.1,106.7 1277.6,105.7 1278.1,103.9 1278.6,101.7 1279.1,99.3 1279.6,97.0 1280.1,94.9 1280.6,93.3 1281.1,92.4 1281.6,91.5 1282.1,90.6 1282.6,89.8 1283.1,89.1 1283.6,88.4 1284.1,87.8 1284.6,87.3 1285.1,87.0 1285.6,86.7 1286.1,86.6 1286.6,86.8 1287.1,87.5 1287.6,88.6 1288.1,90.1 1288.6,92.0 1289.1,94.1 1289.6,96.4 1290.1,99.9 1290.6,106.2 1291.1,114.4 1291.6,123.4 1292.1,132.3 1292.6,139.9 1293.1,145.4 1293.6,148.3 1294.1,150.5 1294.6,151.7 1295.1,151.7 1295.6,151.5 1296.1,151.3 1296.6,151.1 1297.1,150.8 1297.6,150.5 1298.1,150.2 1298.6,149.9 1299.1,149.8 1299.6,149.7 1300.1,149.8 1300.6,150.1 1301.1,150.6 1301.6,151.3 1302.1,152.0 1302.6,152.9 1303.1,153.8 1303.6,154.7 1304.1,155.6 1304.6,156.4 1305.1,157.2 1305.6,157.7 1306.1,158.1 1306.6,158.3 1307.1,158.1 1307.6,157.4 1308.1,156.2 1308.6,154.7 1309.1,152.9 1309.6,151.0 1310.1,148.9 1310.6,146.8 1311.1,144.8 1311.6,143.0 1312.1,141.4 1312.6,140.2 1313.1,139.4 1313.6,139.1 1314.1,139.9 1314.6,142.0 1315.1,144.9 1315.6,148.0 1316.1,150.8 1316.6,152.7 1317.1,154.0 1317.6,155.3 1318.1,156.6 1318.6,157.8 1319.1,158.9 1319.6,159.9 1320.1,160.8 1320.6,161.5 1321.1,162.1 1321.6,162.4 1322.1,162.6 1322.6,162.5 1323.1,162.0 1323.6,161.2 1324.1,160.1 1324.6,158.7 1325.1,157.0 1325.6,155.1 1326.1,153.0 1326.6,150.7 1327.1,146.1 1327.6,138.3 1328.1,128.6 1328.6,118.8 1329.1,110.4 1329.6,104.9 1330.1,101.5 1330.6,98.5 1331.1,96.3 1331.6,95.3 1332.1,95.1 1332.6,94.9 1333.1,94.7 1333.6,94.6 1334.1,94.5 1334.6,94.5 1335.1,94.6 1335.6,95.0 1336.1,95.4 1336.6,96.0 1337.1,96.5 1337.6,96.9 1338.1,97.2 1338.6,97.3 1339.1,97.2 1339.6,96.9 1340.1,96.4 1340.6,95.9 1341.1,95.2 1341.6,94.6 1342.1,93.9 1342.6,93.2 1343.1,92.6 1343.6,92.1 1344.1,91.7 1344.6,91.4 1345.1,91.3 1345.6,91.6 1346.1,92.3 1346.6,93.4 1347.1,94.8 1347.6,96.3 1348.1,97.9 1348.6,99.5 1349.1,101.0 1349.6,102.3 1350.1,103.2 1350.6,103.8 1351.1,103.9 1351.6,103.6 1352.1,103.1 1352.6,102.4 1353.1,101.4 1353.6,100.3 1354.1,99.1 1354.6,97.8 1355.1,96.5 1355.6,95.1 1356.1,93.7 1356.6,92.4 1357.1,91.2 1357.6,90.1 1358.1,89.1 1358.6,88.3 1359.1,87.8 1359.6,87.5 1360.1,87.4 1360.6,87.9 1361.1,88.7 1361.6,90.0 1362.1,91.5 1362.6,93.4 1363.1,95.5 1363.6,98.2 1364.1,104.4 1364.6,113.2 1365.1,123.2 1365.6,132.7 1366.1,140.0 1366.6,144.0 1367.1,146.8 1367.6,148.7 1368.1,149.1 1368.6,148.8 1369.1,148.4 1369.6,147.9 1370.1,147.4 1370.6,147.0 1371.1,146.7 1371.6,146.8 1372.1,147.1 1372.6,147.8 1373.1,148.7 1373.6,149.9 1374.1,151.1 1374.6,152.5 1375.1,153.9 1375.6,155.3 1376.1,156.7 1376.6,157.9 1377.1,159.1 1377.6,160.0 1378.1,160.7 1378.6,161.0 1379.1,161.1 1379.6,160.6 1380.1,159.6 1380.6,158.3 1381.1,156.6 1381.6,154.6 1382.1,152.5 1382.6,150.1 1383.1,147.5 1383.6,143.1 1384.1,137.1 1384.6,130.3 1385.1,123.6 1385.6,117.5 1386.1,112.9 1386.6,110.6 1387.1,109.3 1387.6,108.9 1388.1,109.8 1388.6,111.5 1389.1,113.3 1389.6,114.5 1390.1,114.7 1390.6,113.5 1391.1,111.4 1391.6,108.5 1392.1,105.4 1392.6,102.3 1393.1,99.5 1393.6,97.5 1394.1,96.2 1394.6,95.0 1395.1,93.9 1395.6,92.8 1396.1,91.8 1396.6,90.9 1397.1,90.0 1397.6,89.2 1398.1,88.5 1398.6,88.0 1399.1,87.5 1399.6,87.2 1400.1,87.0 1400.6,87.0 1401.1,87.6 1401.6,88.6 1402.1,90.1 1402.6,92.0 1403.1,94.2 1403.6,96.6 1404.1,99.2 1404.6,102.3 1405.1,107.8 1405.6,115.3 1406.1,123.7 1406.6,132.0 1407.1,139.1 1407.6,143.7 1408.1,145.7 1408.6,147.0 1409.1,147.7 1409.6,147.6 1410.1,147.1 1410.6,146.6 1411.1,146.1 1411.6,145.7 1412.1,145.9 1412.6,147.0 1413.1,148.6 1413.6,150.6 1414.1,152.6 1414.6,154.2 1415.1,155.3 1415.6,156.4 1416.1,157.5 1416.6,158.5 1417.1,159.4 1417.6,160.2 1418.1,160.8 1418.6,161.2 1419.1,161.3 1419.6,161.1 1420.1,160.6 1420.6,159.7 1421.1,158.5 1421.6,157.1 1422.1,155.4 1422.6,153.5 1423.1,151.4 1423.6,149.2 1424.1,145.7 1424.6,139.4 1425.1,131.3 1425.6,122.7 1426.1,114.6 1426.6,108.3 1427.1,104.9 1427.6,103.5 1428.1,102.9 1428.6,103.5 1429.1,104.5 1429.6,105.3 1430.1,105.0 1430.6,104.0 1431.1,102.3 1431.6,100.3 1432.1,98.2 1432.6,96.1 1433.1,94.4 1433.6,93.1 1434.1,92.3 1434.6,91.5 1435.1,90.7 1435.6,90.0 1436.1,89.3 1436.6,88.7 1437.1,88.1 1437.6,87.6 1438.1,87.2 1438.6,86.9 1439.1,86.7 1439.6,86.6 1440.1,86.8 1440.6,87.4 1441.1,88.5 1441.6,90.1 1442.1,91.9 1442.6,94.0 1443.1,96.4 1443.6,98.9 1444.1,103.1 1444.6,109.8 1445.1,118.0 1445.6,126.7 1446.1,134.8 1446.6,141.3 1447.1,145.3 1447.6,148.1 1448.1,149.6 1448.6,149.7 1449.1,149.5 1449.6,149.3 1450.1,149.1 1450.6,148.8 1451.1,148.6 1451.6,148.4 1452.1,148.3 1452.6,148.4 1453.1,148.7 1453.6,149.3 1454.1,150.0 1454.6,150.9 1455.1,151.8 1455.6,152.9 1456.1,153.9 1456.6,155.0 1457.1,155.9 1457.6,156.8 1458.1,157.6 1458.6,158.2 1459.1,158.6 1459.6,158.7 1460.1,158.5 1460.6,158.0 1461.1,157.2 1461.6,156.2 1462.1,155.0 1462.6,153.6 1463.1,152.2 1463.6,150.7 1464.1,148.6 1464.6,145.4 1465.1,141.5 1465.6,137.2 1466.1,133.0 1466.6,129.0 1467.1,125.8 1467.6,123.6 1468.1,122.8 1468.6,124.4 1469.1,128.4 1469.6,133.4 1470.1,138.1 1470.6,141.2 1471.1,143.4 1471.6,145.4 1472.1,147.2 1472.6,148.7 1473.1,149.9 1473.6,150.9 1474.1,151.7 1474.6,152.5 1475.1,153.2 1475.6,154.0 1476.1,154.7 1476.6,155.3 1477.1,155.9 1477.6,156.5 1478.1,157.0 1478.6,157.4 1479.1,157.8 1479.6,158.1 1480.1,158.4 1480.6,158.6 1481.1,158.7 1481.6,158.7 1482.1,158.2 1482.6,157.2 1483.1,155.7 1483.6,154.0 1484.1,152.2 1484.6,150.3 1485.1,147.7 1485.6,144.2 1486.1,140.7 1486.6,137.6 1487.1,135.7 1487.6,135.5 1488.1,137.3 1488.6,140.5 1489.1,144.3 1489.6,147.8 1490.1,150.4 1490.6,151.8 1491.1,153.2 1491.6,154.5 1492.1,155.8 1492.6,156.9 1493.1,158.0 1493.6,158.9 1494.1,159.7 1494.6,160.3 1495.1,160.8 1495.6,161.0 1496.1,161.1 1496.6,160.8 1497.1,160.3 1497.6,159.4 1498.1,158.3 1498.6,157.0 1499.1,155.5 1499.6,153.8 1500.1,151.7 1500.6,147.6 1501.1,141.6 1501.6,134.4 1502.1,126.6 1502.6,119.0 1503.1,112.2 1503.6,107.0 1504.1,103.8 1504.6,101.1 1505.1,98.9 1505.6,97.6 1506.1,97.3 1506.6,97.3 1507.1,97.4 1507.6,97.5 1508.1,97.6 1508.6,97.8 1509.1,97.8 1509.6,97.9 1510.1,97.9 1510.6,97.7 1511.1,97.5 1511.6,97.0 1512.1,96.5 1512.6,95.9 1513.1,95.3 1513.6,94.6 1514.1,93.9 1514.6,93.2 1515.1,92.6 1515.6,92.0 1516.1,91.5 1516.6,91.0 1517.1,90.7 1517.6,90.5 1518.1,90.5 1518.6,91.1 1519.1,92.1 1519.6,93.4 1520.1,95.1 1520.6,97.0 1521.1,98.9 1521.6,100.8 1522.1,102.6 1522.6,104.3 1523.1,105.6 1523.6,106.5 1524.1,106.9 1524.6,106.8 1525.1,106.3 1525.6,105.6 1526.1,104.6 1526.6,103.3 1527.1,101.9 1527.6,100.4 1528.1,98.8 1528.6,97.1 1529.1,95.4 1529.6,93.7 1530.1,92.2 1530.6,90.7 1531.1,89.4 1531.6,88.3 1532.1,87.4 1532.6,86.9 1533.1,86.6 1533.6,86.8 1534.1,87.4 1534.6,88.5 1535.1,89.9 1535.6,91.7 1536.1,93.7 1536.6,96.0 1537.1,98.4 1537.6,101.9 1538.1,108.1 1538.6,116.0 1539.1,124.7 1539.6,133.2 1540.1,140.4 1540.6,145.5 1541.1,148.1 1541.6,150.1 1542.1,151.5 1542.6,151.7 1543.1,151.7 1543.6,151.6 1544.1,151.4 1544.6,151.3 1545.1,151.1 1545.6,151.0 1546.1,150.8 1546.6,150.7 1547.1,150.5 1547.6,150.4 1548.1,150.3 1548.6,150.3 1549.1,150.4 1549.6,150.6 1550.1,151.0 1550.6,151.6 1551.1,152.2 1551.6,152.9 1552.1,153.6 1552.6,154.3 1553.1,154.9 1553.6,155.5 1554.1,155.9 1554.6,156.2 1555.1,156.3 1555.6,156.1 1556.1,155.5 1556.6,154.6 1557.1,153.5 1557.6,152.2 1558.1,150.9 1558.6,149.4 1559.1,148.0 1559.6,146.7 1560.1,145.6 1560.6,144.6 1561.1,144.0 1561.6,143.7 1562.1,144.0 1562.6,145.2 1563.1,147.0 1563.6,149.0 1564.1,150.9 1564.6,152.5 1565.1,153.6 1565.6,154.7 1566.1,155.9 1566.6,157.0 1567.1,158.1 1567.6,159.1 1568.1,159.9 1568.6,160.7 1569.1,161.2 1569.6,161.6 1570.1,161.7 1570.6,161.5 1571.1,160.8 1571.6,159.7 1572.1,158.3 1572.6,156.6 1573.1,154.7 1573.6,152.5 1574.1,150.2 1574.6,145.8 1575.1,139.3 1575.6,131.4 1576.1,123.2 1576.6,115.4 1577.1,109.0 1577.6,104.9 1578.1,102.2 1578.6,100.0 1579.1,98.9 1579.6,98.9 1580.1,99.0 1580.6,99.0 1581.1,99.1 1581.6,99.2 1582.1,99.3 1582.6,99.3 1583.1,99.2 1583.6,98.9 1584.1,98.3 1584.6,97.7 1585.1,96.9 1585.6,96.0 1586.1,95.1 1586.6,94.1 1587.1,93.1 1587.6,92.2 1588.1,91.3 1588.6,90.5 1589.1,89.9 1589.6,89.3 1590.1,89.0 1590.6,88.9 1591.1,89.1 1591.6,89.7 1592.1,90.6 1592.6,91.8 1593.1,93.3 1593.6,94.9 1594.1,96.8 1594.6,98.8 1595.1,100.8 1595.6,102.9 1596.1,106.1 1596.6,110.6 1597.1,115.2 1597.6,118.9 1598.1,120.4 1598.6,119.3 1599.1,116.4 1599.6,112.4 1600.1,108.0 1600.6,103.8 1601.1,100.5 1601.6,98.7 1602.1,97.5 1602.6,96.4 1603.1,95.4 1603.6,94.4 1604.1,93.5 1604.6,92.7 1605.1,91.9 1605.6,91.2 1606.1,90.6 1606.6,90.0 1607.1,89.6 1607.6,89.2 1608.1,88.9 1608.6,88.7 1609.1,88.5 1609.6,88.5 1610.1,88.9 1610.6,89.8 1611.1,91.1 1611.6,92.8 1612.1,94.8 1612.6,96.9 1613.1,99.2 1613.6,101.5 1614.1,103.9 1614.6,107.5 1615.1,112.0 1615.6,116.9 1616.1,121.9 1616.6,126.4 1617.1,129.9 1617.6,132.0 1618.1,132.2 1618.6,129.7 1619.1,125.5 1619.6,120.5 1620.1,115.7 1620.6,112.1 1621.1,110.5 1621.6,109.7 1622.1,109.0 1622.6,108.4 1623.1,107.5 1623.6,106.3 1624.1,104.9 1624.6,103.4 1625.1,101.9 1625.6,100.3 1626.1,98.9 1626.6,97.6 1627.1,96.5 1627.6,95.4 1628.1,94.3 1628.6,93.3 1629.1,92.2 1629.6,91.2 1630.1,90.2 1630.6,89.4 1631.1,88.7 1631.6,88.1 1632.1,87.7 1632.6,87.4 1633.1,87.5 1633.6,88.0 1634.1,89.1 1634.6,90.7 1635.1,92.8 1635.6,95.1 1636.1,97.8 1636.6,101.5 1637.1,108.9 1637.6,118.8 1638.1,129.1 1638.6,138.2 1639.1,144.1 1639.6,146.8 1640.1,149.0 1640.6,150.2 1641.1,150.3 1641.6,150.2 1642.1,150.0 1642.6,149.8 1643.1,149.6 1643.6,149.4 1644.1,149.2 1644.6,149.1 1645.1,149.1 1645.6,149.4 1646.1,149.9 1646.6,150.6 1647.1,151.4 1647.6,152.3 1648.1,153.3 1648.6,154.3 1649.1,155.3 1649.6,156.3 1650.1,157.1 1650.6,157.9 1651.1,158.5 1651.6,158.9 1652.1,159.1 1652.6,159.0 1653.1,158.5 1653.6,157.8 1654.1,156.8 1654.6,155.6 1655.1,154.2 1655.6,152.7 1656.1,151.1 1656.6,149.4 1657.1,147.4 1657.6,144.1 1658.1,140.0 1658.6,135.6 1659.1,131.7 1659.6,128.7 1660.1,127.2 1660.6,128.2 1661.1,131.6 1661.6,136.3 1662.1,140.9 1662.6,144.3 1663.1,146.0 1663.6,147.4 1664.1,148.7 1664.6,149.7 1665.1,150.6 1665.6,151.5 1666.1,152.4 1666.6,153.3 1667.1,154.2 1667.6,155.2 1668.1,156.0 1668.6,156.9 1669.1,157.6 1669.6,158.3 1670.1,158.8 1670.6,159.3 1671.1,159.6 1671.6,159.7 1672.1,159.6 1672.6,159.1 1673.1,158.3 1673.6,157.3 1674.1,156.0 1674.6,154.5 1675.1,152.8 1675.6,151.0 1676.1,149.1 1676.6,147.1 1677.1,144.5 1677.6,140.3 1678.1,135.2 1678.6,130.0 1679.1,125.4 1679.6,122.1 1680.1,120.8 1680.6,122.6 1681.1,127.1 1681.6,132.8 1682.1,138.3 1682.6,142.2 1683.1,144.2 1683.6,145.7 1684.1,147.0 1684.6,148.1 1685.1,149.1 1685.6,150.1 1686.1,151.0 1686.6,151.8 1687.1,152.6 1687.6,153.3 1688.1,154.0 1688.6,154.7 1689.1,155.4 1689.6,156.1 1690.1,156.8 1690.6,157.6 1691.1,158.2 1691.6,158.8 1692.1,159.2 1692.6,159.6 1693.1,159.7 1693.6,159.6 1694.1,159.1 1694.6,158.3 1695.1,157.2 1695.6,155.8 1696.1,154.2 1696.6,152.4 1697.1,150.4 1697.5,148.7" stroke="#000000"/>
</g>
<g id="plot3">
<path d="M1347.3,360.4v-6.0M1347.3,6.3v6.0M1464.0,360.4v-6.0M1464.0,6.3v6.0M1580.8,360.4v-6.0M1580.8,6.3v6.0M1230.6,65.3h6.0M1697.5,65.3h-6.0M1230.6,124.3h6.0M1697.5,124.3h-6.0M1230.6,183.3h6.0M1697.5,183.3h-6.0M1230.6,242.4h6.0M1697.5,242.4h-6.0M1230.6,301.4h6.0M1697.5,301.4h-6.0" stroke="#262626" stroke-width="2.8" fill="none"/>
<rect x="1230.6" y="6.3" width="466.9" height="354.1" fill="none" stroke="#262626" stroke-width="3.1"/>
<text class="t" transform="translate(1230.6,388.8) scale(1.05,1)" font-size="20.3px" text-anchor="middle">0</text>
<text class="t" transform="translate(1347.3,388.8) scale(1.05,1)" font-size="20.3px" text-anchor="middle">500</text>
<text class="t" transform="translate(1464.0,388.8) scale(1.05,1)" font-size="20.3px" text-anchor="middle">1000</text>
<text class="t" transform="translate(1580.8,388.8) scale(1.05,1)" font-size="20.3px" text-anchor="middle">1500</text>
<text class="t" transform="translate(1697.5,388.8) scale(1.05,1)" font-size="20.3px" text-anchor="middle">2000</text>
<text class="t" transform="translate(1224.5,14.9) scale(1.05,1)" font-size="20.3px" text-anchor="end">2</text>
<text class="t" transform="translate(1224.5,73.9) scale(1.05,1)" font-size="20.3px" text-anchor="end">1</text>
<text class="t" transform="translate(1224.5,132.9) scale(1.05,1)" font-size="20.3px" text-anchor="end">0</text>
<text class="t" transform="translate(1224.5,191.9) scale(1.05,1)" font-size="20.3px" text-anchor="end">-1</text>
<text class="t" transform="translate(1224.5,251.0) scale(1.05,1)" font-size="20.3px" text-anchor="end">-2</text>
<text class="t" transform="translate(1224.5,310.0) scale(1.05,1)" font-size="20.3px" text-anchor="end">-3</text>
<text class="t" transform="translate(1224.5,369.0) scale(1.05,1)" font-size="20.3px" text-anchor="end">-4</text>
<text class="t" transform="translate(1464.0,418.6) scale(1.0,1)" font-size="23.2px" text-anchor="middle">t /s</text>
<text class="t" transform="translate(1196.8,183.3) rotate(-90)" font-size="23.2px" text-anchor="middle">z</text>
</g>
<g class="legend">
<path d="M1425.8,29.5h31.6" stroke="#ff0000" stroke-width="1.7"/>
<path d="M1425.8,56.6h31.6" stroke="#000000" stroke-width="1.7"/>
<text class="t" transform="translate(1460.2,37.8) scale(1.05,1)" font-size="20.3px" text-anchor="start" style="fill:#000;stroke:#000">Incremental initial value</text>
<text class="t" transform="translate(1460.2,64.9) scale(1.05,1)" font-size="20.3px" text-anchor="start" style="fill:#000;stroke:#000">Initial value of reference</text>
</g>
<clipPath id="clipi3"><rect x="1348.3" y="209.4" width="228.6" height="110.5"/></clipPath>
<g clip-path="url(#clipi3)" fill="none" stroke-width="1.7" stroke-linejoin="round" stroke-linecap="butt">
<path d="M1348.3,298.5 1348.8,298.7 1349.3,298.8 1349.8,299.0 1350.3,299.2 1350.8,299.3 1351.3,299.5 1351.8,299.6 1352.3,299.7 1352.8,299.9 1353.3,300.0 1353.8,300.1 1354.3,300.2 1354.8,300.4 1355.3,300.5 1355.8,300.6 1356.3,300.7 1356.8,300.8 1357.3,300.9 1357.8,301.0 1358.3,301.0 1358.8,301.1 1359.3,301.2 1359.8,301.3 1360.3,301.3 1360.8,301.4 1361.3,301.4 1361.8,301.5 1362.3,301.5 1362.8,301.6 1363.3,301.6 1363.8,301.6 1364.3,301.7 1364.8,301.7 1365.3,301.7 1365.8,301.7 1366.3,301.7 1366.8,301.7 1367.3,301.7 1367.8,301.7 1368.3,301.7 1368.8,301.7 1369.3,301.7 1369.8,301.7 1370.3,301.6 1370.8,301.6 1371.3,301.6 1371.8,301.5 1372.3,301.4 1372.8,301.4 1373.3,301.3 1373.8,301.2 1374.3,301.1 1374.8,301.0 1375.3,300.9 1375.8,300.8 1376.3,300.7 1376.8,300.5 1377.3,300.4 1377.8,300.3 1378.3,300.1 1378.8,299.9 1379.3,299.8 1379.8,299.6 1380.3,299.4 1380.8,299.2 1381.3,299.0 1381.8,298.7 1382.3,298.5 1382.8,298.3 1383.3,298.0 1383.8,297.8 1384.3,297.6 1384.8,297.3 1385.3,297.0 1385.8,296.8 1386.3,296.5 1386.8,296.2 1387.3,295.9 1387.8,295.7 1388.3,295.3 1388.8,295.0 1389.3,294.7 1389.8,294.4 1390.3,294.1 1390.8,293.7 1391.3,293.3 1391.8,293.0 1392.3,292.6 1392.8,292.2 1393.3,291.8 1393.8,291.4 1394.3,291.0 1394.8,290.5 1395.3,290.1 1395.8,289.6 1396.3,289.2 1396.8,288.7 1397.3,288.2 1397.8,287.8 1398.3,287.3 1398.8,286.8 1399.3,286.4 1399.8,285.9 1400.3,285.4 1400.8,284.9 1401.3,284.5 1401.8,284.0 1402.3,283.5 1402.8,283.0 1403.3,282.5 1403.8,282.0 1404.3,281.5 1404.8,281.1 1405.3,280.6 1405.8,280.1 1406.3,279.6 1406.8,279.1 1407.3,278.6 1407.8,278.1 1408.3,277.6 1408.8,277.1 1409.3,276.7 1409.8,276.2 1410.3,275.7 1410.8,275.2 1411.3,274.7 1411.8,274.2 1412.3,273.8 1412.8,273.3 1413.3,272.8 1413.8,272.3 1414.3,271.8 1414.8,271.3 1415.3,270.7 1415.8,270.2 1416.3,269.7 1416.8,269.1 1417.3,268.6 1417.8,268.0 1418.3,267.4 1418.8,266.8 1419.3,266.2 1419.8,265.6 1420.3,265.0 1420.8,264.3 1421.3,263.6 1421.8,262.9 1422.3,262.1 1422.8,261.3 1423.3,260.5 1423.8,259.7 1424.3,258.8 1424.8,258.0 1425.3,257.1 1425.8,256.2 1426.3,255.3 1426.8,254.4 1427.3,253.5 1427.8,252.6 1428.3,251.7 1428.8,250.8 1429.3,249.9 1429.8,249.0 1430.3,248.1 1430.8,247.3 1431.3,246.4 1431.8,245.4 1432.3,244.5 1432.8,243.6 1433.3,242.7 1433.8,241.7 1434.3,240.8 1434.8,239.8 1435.3,238.9 1435.8,238.0 1436.3,237.0 1436.8,236.1 1437.3,235.2 1437.8,234.3 1438.3,233.4 1438.8,232.5 1439.3,231.6 1439.8,230.8 1440.3,230.0 1440.8,229.2 1441.3,228.5 1441.8,227.9 1442.3,227.3 1442.8,226.8 1443.3,226.3 1443.8,225.8 1444.3,225.4 1444.8,225.0 1445.3,224.6 1445.8,224.3 1446.3,224.1 1446.8,223.8 1447.3,223.6 1447.8,223.4 1448.3,223.3 1448.8,223.2 1449.3,223.1 1449.8,223.0 1450.3,223.0 1450.8,223.0 1451.3,223.0 1451.8,223.1 1452.3,223.1 1452.8,223.3 1453.3,223.4 1453.8,223.6 1454.3,223.8 1454.8,224.1 1455.3,224.4 1455.8,224.8 1456.3,225.2 1456.8,225.7 1457.3,226.2 1457.8,226.8 1458.3,227.4 1458.8,228.1 1459.3,228.8 1459.8,229.7 1460.3,230.5 1460.8,231.4 1461.3,232.3 1461.8,233.2 1462.3,234.1 1462.8,235.0 1463.3,235.9 1463.8,236.8 1464.3,237.7 1464.8,238.6 1465.3,239.5 1465.8,240.5 1466.3,241.4 1466.8,242.3 1467.3,243.3 1467.8,244.2 1468.3,245.1 1468.8,246.1 1469.3,247.0 1469.8,248.0 1470.3,249.0 1470.8,250.0 1471.3,251.1 1471.8,252.2 1472.3,253.4 1472.8,254.5 1473.3,255.6 1473.8,256.6 1474.3,257.7 1474.8,258.7 1475.3,259.6 1475.8,260.4 1476.3,261.1 1476.8,261.8 1477.3,262.3 1477.8,262.9 1478.3,263.4 1478.8,264.0 1479.3,264.5 1479.8,265.0 1480.3,265.5 1480.8,266.0 1481.3,266.4 1481.8,266.9 1482.3,267.4 1482.8,267.8 1483.3,268.3 1483.8,268.8 1484.3,269.2 1484.8,269.7 1485.3,270.1 1485.8,270.6 1486.3,271.0 1486.8,271.4 1487.3,271.9 1487.8,272.3 1488.3,272.8 1488.8,273.2 1489.3,273.7 1489.8,274.1 1490.3,274.6 1490.8,275.1 1491.3,275.5 1491.8,276.0 1492.3,276.5 1492.8,276.9 1493.3,277.4 1493.8,277.8 1494.3,278.3 1494.8,278.8 1495.3,279.2 1495.8,279.7 1496.3,280.2 1496.8,280.6 1497.3,281.1 1497.8,281.6 1498.3,282.0 1498.8,282.5 1499.3,282.9 1499.8,283.4 1500.3,283.9 1500.8,284.3 1501.3,284.8 1501.8,285.2 1502.3,285.7 1502.8,286.2 1503.3,286.6 1503.8,287.1 1504.3,287.6 1504.8,288.0 1505.3,288.5 1505.8,288.9 1506.3,289.4 1506.8,289.8 1507.3,290.3 1507.8,290.7 1508.3,291.2 1508.8,291.7 1509.3,292.1 1509.8,292.6 1510.3,293.0 1510.8,293.4 1511.3,293.9 1511.8,294.3 1512.3,294.7 1512.8,295.2 1513.3,295.6 1513.8,296.0 1514.3,296.4 1514.8,296.8 1515.3,297.2 1515.8,297.6 1516.3,298.0 1516.8,298.3 1517.3,298.7 1517.8,299.1 1518.3,299.5 1518.8,299.8 1519.3,300.2 1519.8,300.6 1520.3,300.9 1520.8,301.3 1521.3,301.6 1521.8,302.0 1522.3,302.3 1522.8,302.7 1523.3,303.0 1523.8,303.4 1524.3,303.7 1524.8,304.0 1525.3,304.4 1525.8,304.7 1526.3,305.0 1526.8,305.4 1527.3,305.7 1527.8,306.0 1528.3,306.4 1528.8,306.7 1529.3,307.0 1529.8,307.3 1530.3,307.7 1530.8,308.0 1531.3,308.3 1531.8,308.6 1532.3,308.9 1532.8,309.2 1533.3,309.5 1533.8,309.8 1534.3,310.0 1534.8,310.3 1535.3,310.6 1535.8,310.9 1536.3,311.1 1536.8,311.4 1537.3,311.7 1537.8,311.9 1538.3,312.2 1538.8,312.4 1539.3,312.7 1539.8,312.9 1540.3,313.2 1540.8,313.4 1541.3,313.6 1541.8,313.8 1542.3,314.1 1542.8,314.3 1543.3,314.5 1543.8,314.7 1544.3,314.9 1544.8,315.1 1545.3,315.3 1545.8,315.5 1546.3,315.6 1546.8,315.8 1547.3,316.0 1547.8,316.2 1548.3,316.3 1548.8,316.5 1549.3,316.6 1549.8,316.8 1550.3,316.9 1550.8,317.1 1551.3,317.2 1551.8,317.4 1552.3,317.5 1552.8,317.6 1553.3,317.7 1553.8,317.8 1554.3,318.0 1554.8,318.1 1555.3,318.2 1555.8,318.3 1556.3,318.4 1556.8,318.5 1557.3,318.6 1557.8,318.7 1558.3,318.8 1558.8,318.9 1559.3,318.9 1559.8,319.0 1560.3,319.1 1560.8,319.2 1561.3,319.3 1561.8,319.3 1562.3,319.4 1562.8,319.5 1563.3,319.6 1563.8,319.6 1564.3,319.7 1564.8,319.8 1565.3,319.8 1565.8,319.8 1566.3,319.9 1566.8,319.9 1567.3,319.9 1567.8,319.8 1568.3,319.8 1568.8,319.7 1569.3,319.7 1569.8,319.6 1570.3,319.5 1570.8,319.4 1571.3,319.2 1571.8,319.1 1572.3,318.9 1572.8,318.7 1573.3,318.5 1573.8,318.3 1574.3,318.0 1574.8,317.8 1575.3,317.6 1575.8,317.3 1576.3,317.0 1576.8,316.8 1576.9,316.7" stroke="#ff0000"/>
<path d="M1348.3,298.5 1348.8,298.7 1349.3,298.8 1349.8,299.0 1350.3,299.2 1350.8,299.3 1351.3,299.5 1351.8,299.6 1352.3,299.8 1352.8,299.9 1353.3,300.0 1353.8,300.1 1354.3,300.3 1354.8,300.4 1355.3,300.5 1355.8,300.6 1356.3,300.7 1356.8,300.8 1357.3,300.9 1357.8,301.0 1358.3,301.0 1358.8,301.1 1359.3,301.2 1359.8,301.3 1360.3,301.3 1360.8,301.4 1361.3,301.4 1361.8,301.5 1362.3,301.5 1362.8,301.6 1363.3,301.6 1363.8,301.6 1364.3,301.7 1364.8,301.7 1365.3,301.7 1365.8,301.7 1366.3,301.7 1366.8,301.7 1367.3,301.7 1367.8,301.7 1368.3,301.7 1368.8,301.7 1369.3,301.7 1369.8,301.7 1370.3,301.7 1370.8,301.6 1371.3,301.6 1371.8,301.5 1372.3,301.5 1372.8,301.4 1373.3,301.3 1373.8,301.3 1374.3,301.2 1374.8,301.1 1375.3,301.0 1375.8,300.9 1376.3,300.7 1376.8,300.6 1377.3,300.4 1377.8,300.3 1378.3,300.1 1378.8,299.9 1379.3,299.7 1379.8,299.5 1380.3,299.3 1380.8,299.1 1381.3,298.8 1381.8,298.6 1382.3,298.3 1382.8,298.0 1383.3,297.7 1383.8,297.4 1384.3,297.1 1384.8,296.8 1385.3,296.5 1385.8,296.1 1386.3,295.8 1386.8,295.4 1387.3,295.1 1387.8,294.7 1388.3,294.3 1388.8,294.0 1389.3,293.6 1389.8,293.2 1390.3,292.8 1390.8,292.4 1391.3,292.0 1391.8,291.6 1392.3,291.1 1392.8,290.7 1393.3,290.3 1393.8,289.8 1394.3,289.4 1394.8,288.9 1395.3,288.4 1395.8,288.0 1396.3,287.5 1396.8,287.0 1397.3,286.6 1397.8,286.1 1398.3,285.6 1398.8,285.1 1399.3,284.6 1399.8,284.1 1400.3,283.6 1400.8,283.1 1401.3,282.6 1401.8,282.1 1402.3,281.6 1402.8,281.1 1403.3,280.6 1403.8,280.1 1404.3,279.5 1404.8,279.0 1405.3,278.5 1405.8,277.9 1406.3,277.4 1406.8,276.9 1407.3,276.3 1407.8,275.8 1408.3,275.2 1408.8,274.7 1409.3,274.1 1409.8,273.6 1410.3,273.0 1410.8,272.4 1411.3,271.9 1411.8,271.3 1412.3,270.7 1412.8,270.1 1413.3,269.5 1413.8,268.9 1414.3,268.3 1414.8,267.7 1415.3,267.1 1415.8,266.4 1416.3,265.8 1416.8,265.1 1417.3,264.5 1417.8,263.8 1418.3,263.1 1418.8,262.4 1419.3,261.6 1419.8,260.9 1420.3,260.1 1420.8,259.4 1421.3,258.6 1421.8,257.8 1422.3,257.0 1422.8,256.2 1423.3,255.3 1423.8,254.5 1424.3,253.7 1424.8,252.8 1425.3,252.0 1425.8,251.1 1426.3,250.3 1426.8,249.4 1427.3,248.5 1427.8,247.7 1428.3,246.8 1428.8,245.9 1429.3,245.1 1429.8,244.2 1430.3,243.4 1430.8,242.5 1431.3,241.6 1431.8,240.7 1432.3,239.8 1432.8,238.9 1433.3,237.9 1433.8,237.0 1434.3,236.1 1434.8,235.2 1435.3,234.3 1435.8,233.4 1436.3,232.5 1436.8,231.6 1437.3,230.7 1437.8,229.8 1438.3,229.0 1438.8,228.3 1439.3,227.6 1439.8,227.0 1440.3,226.4 1440.8,225.9 1441.3,225.4 1441.8,225.0 1442.3,224.6 1442.8,224.3 1443.3,224.0 1443.8,223.8 1444.3,223.6 1444.8,223.4 1445.3,223.2 1445.8,223.1 1446.3,223.0 1446.8,223.0 1447.3,222.9 1447.8,222.9 1448.3,223.0 1448.8,223.1 1449.3,223.2 1449.8,223.4 1450.3,223.6 1450.8,223.8 1451.3,224.1 1451.8,224.5 1452.3,224.9 1452.8,225.4 1453.3,225.9 1453.8,226.5 1454.3,227.2 1454.8,227.9 1455.3,228.7 1455.8,229.5 1456.3,230.3 1456.8,231.1 1457.3,232.0 1457.8,232.9 1458.3,233.7 1458.8,234.6 1459.3,235.5 1459.8,236.4 1460.3,237.3 1460.8,238.3 1461.3,239.2 1461.8,240.2 1462.3,241.1 1462.8,242.1 1463.3,243.1 1463.8,244.0 1464.3,245.0 1464.8,246.0 1465.3,247.0 1465.8,248.1 1466.3,249.2 1466.8,250.4 1467.3,251.6 1467.8,252.8 1468.3,254.1 1468.8,255.4 1469.3,256.6 1469.8,257.9 1470.3,259.1 1470.8,260.3 1471.3,261.5 1471.8,262.7 1472.3,263.8 1472.8,264.9 1473.3,265.9 1473.8,266.8 1474.3,267.7 1474.8,268.5 1475.3,269.2 1475.8,269.8 1476.3,270.3 1476.8,270.8 1477.3,271.3 1477.8,271.8 1478.3,272.3 1478.8,272.8 1479.3,273.3 1479.8,273.7 1480.3,274.2 1480.8,274.6 1481.3,275.1 1481.8,275.5 1482.3,275.9 1482.8,276.4 1483.3,276.8 1483.8,277.2 1484.3,277.6 1484.8,278.1 1485.3,278.5 1485.8,278.9 1486.3,279.3 1486.8,279.7 1487.3,280.1 1487.8,280.5 1488.3,280.9 1488.8,281.4 1489.3,281.8 1489.8,282.2 1490.3,282.6 1490.8,283.0 1491.3,283.4 1491.8,283.9 1492.3,284.3 1492.8,284.7 1493.3,285.1 1493.8,285.6 1494.3,286.0 1494.8,286.4 1495.3,286.8 1495.8,287.2 1496.3,287.7 1496.8,288.1 1497.3,288.5 1497.8,288.9 1498.3,289.4 1498.8,289.8 1499.3,290.2 1499.8,290.6 1500.3,291.0 1500.8,291.5 1501.3,291.9 1501.8,292.3 1502.3,292.7 1502.8,293.1 1503.3,293.5 1503.8,294.0 1504.3,294.4 1504.8,294.8 1505.3,295.2 1505.8,295.6 1506.3,296.0 1506.8,296.4 1507.3,296.8 1507.8,297.2 1508.3,297.6 1508.8,298.0 1509.3,298.4 1509.8,298.8 1510.3,299.2 1510.8,299.6 1511.3,300.0 1511.8,300.3 1512.3,300.7 1512.8,301.1 1513.3,301.4 1513.8,301.8 1514.3,302.1 1514.8,302.5 1515.3,302.8 1515.8,303.1 1516.3,303.4 1516.8,303.8 1517.3,304.1 1517.8,304.4 1518.3,304.7 1518.8,305.0 1519.3,305.3 1519.8,305.6 1520.3,305.9 1520.8,306.2 1521.3,306.5 1521.8,306.8 1522.3,307.0 1522.8,307.3 1523.3,307.6 1523.8,307.9 1524.3,308.1 1524.8,308.4 1525.3,308.7 1525.8,308.9 1526.3,309.2 1526.8,309.4 1527.3,309.7 1527.8,309.9 1528.3,310.2 1528.8,310.5 1529.3,310.7 1529.8,310.9 1530.3,311.2 1530.8,311.4 1531.3,311.6 1531.8,311.9 1532.3,312.1 1532.8,312.3 1533.3,312.5 1533.8,312.7 1534.3,313.0 1534.8,313.2 1535.3,313.4 1535.8,313.6 1536.3,313.8 1536.8,314.0 1537.3,314.2 1537.8,314.4 1538.3,314.5 1538.8,314.7 1539.3,314.9 1539.8,315.1 1540.3,315.3 1540.8,315.4 1541.3,315.6 1541.8,315.8 1542.3,316.0 1542.8,316.1 1543.3,316.3 1543.8,316.5 1544.3,316.6 1544.8,316.8 1545.3,317.0 1545.8,317.1 1546.3,317.3 1546.8,317.4 1547.3,317.6 1547.8,317.8 1548.3,317.9 1548.8,318.1 1549.3,318.2 1549.8,318.3 1550.3,318.5 1550.8,318.6 1551.3,318.7 1551.8,318.8 1552.3,318.9 1552.8,319.0 1553.3,319.1 1553.8,319.2 1554.3,319.3 1554.8,319.4 1555.3,319.4 1555.8,319.5 1556.3,319.5 1556.8,319.6 1557.3,319.6 1557.8,319.6 1558.3,319.6 1558.8,319.6 1559.3,319.6 1559.8,319.5 1560.3,319.5 1560.8,319.4 1561.3,319.3 1561.8,319.2 1562.3,319.1 1562.8,318.9 1563.3,318.8 1563.8,318.6 1564.3,318.4 1564.8,318.3 1565.3,318.1 1565.8,317.9 1566.3,317.6 1566.8,317.4 1567.3,317.2 1567.8,316.9 1568.3,316.7 1568.8,316.4 1569.3,316.2 1569.8,315.9 1570.3,315.7 1570.8,315.4 1571.3,315.1 1571.8,314.8 1572.3,314.5 1572.8,314.2 1573.3,313.9 1573.8,313.5 1574.3,313.2 1574.8,312.9 1575.3,312.5 1575.8,312.1 1576.3,311.8 1576.8,311.4 1576.9,311.3" stroke="#000000"/>
</g>
<g id="inset3">
<path d="M1405.5,319.9v-3.6M1405.5,209.4v3.6M1462.6,319.9v-3.6M1462.6,209.4v3.6M1519.8,319.9v-3.6M1519.8,209.4v3.6M1348.3,258.5h3.6M1576.9,258.5h-3.6M1348.3,307.6h3.6M1576.9,307.6h-3.6" stroke="#262626" stroke-width="2.2" fill="none"/>
<rect x="1348.3" y="209.4" width="228.6" height="110.5" fill="none" stroke="#262626" stroke-width="2.3"/>
<text class="t" transform="translate(1348.3,345.7) scale(1.02,1)" font-size="18.5px" text-anchor="middle">320</text>
<text class="t" transform="translate(1405.5,345.7) scale(1.02,1)" font-size="18.5px" text-anchor="middle">340</text>
<text class="t" transform="translate(1462.6,345.7) scale(1.02,1)" font-size="18.5px" text-anchor="middle">360</text>
<text class="t" transform="translate(1519.8,345.7) scale(1.02,1)" font-size="18.5px" text-anchor="middle">380</text>
<text class="t" transform="translate(1576.9,345.7) scale(1.02,1)" font-size="18.5px" text-anchor="middle">400</text>
<text class="t" transform="translate(1340.3,217.4) scale(1.02,1)" font-size="18.5px" text-anchor="end">-0.2</text>
<text class="t" transform="translate(1340.3,266.5) scale(1.02,1)" font-size="18.5px" text-anchor="end">-0.4</text>
<text class="t" transform="translate(1340.3,315.6) scale(1.02,1)" font-size="18.5px" text-anchor="end">-0.6</text>
</g>
<text class="c" xml:space="preserve"><tspan x="72.0" y="491.4" font-size="43.5px" textLength="51.3" lengthAdjust="spacingAndGlyphs">(a)</tspan> <tspan x="138.6" y="490.6" font-size="41.0px" textLength="73.5" lengthAdjust="spacingAndGlyphs">The</tspan> <tspan x="224.7" y="490.6" font-size="41.0px" textLength="82.2" lengthAdjust="spacingAndGlyphs">time</tspan> <tspan x="320.3" y="490.6" font-size="41.0px" textLength="136.5" lengthAdjust="spacingAndGlyphs">domain</tspan> <tspan x="468.6" y="490.6" font-size="41.0px" textLength="38.9" lengthAdjust="spacingAndGlyphs">of</tspan> <tspan x="517.4" y="490.6" font-size="41.0px" textLength="22.4" lengthAdjust="spacingAndGlyphs">x</tspan></text>
<text class="c" xml:space="preserve"><tspan x="655.5" y="491.4" font-size="43.5px" textLength="53.4" lengthAdjust="spacingAndGlyphs">(b)</tspan> <tspan x="723.8" y="490.6" font-size="41.0px" textLength="73.5" lengthAdjust="spacingAndGlyphs">The</tspan> <tspan x="809.9" y="490.6" font-size="41.0px" textLength="82.2" lengthAdjust="spacingAndGlyphs">time</tspan> <tspan x="905.5" y="490.6" font-size="41.0px" textLength="136.5" lengthAdjust="spacingAndGlyphs">domain</tspan> <tspan x="1053.8" y="490.6" font-size="41.0px" textLength="38.9" lengthAdjust="spacingAndGlyphs">of</tspan> <tspan x="1102.1" y="490.6" font-size="41.0px" textLength="20.7" lengthAdjust="spacingAndGlyphs">y</tspan></text>
<text class="c" xml:space="preserve"><tspan x="1240.1" y="491.4" font-size="43.5px" textLength="48.3" lengthAdjust="spacingAndGlyphs">(c)</tspan> <tspan x="1304.6" y="490.6" font-size="41.0px" textLength="73.5" lengthAdjust="spacingAndGlyphs">The</tspan> <tspan x="1390.7" y="490.6" font-size="41.0px" textLength="82.2" lengthAdjust="spacingAndGlyphs">time</tspan> <tspan x="1486.3" y="490.6" font-size="41.0px" textLength="136.5" lengthAdjust="spacingAndGlyphs">domain</tspan> <tspan x="1634.6" y="490.6" font-size="41.0px" textLength="38.9" lengthAdjust="spacingAndGlyphs">of</tspan> <tspan x="1684.7" y="490.6" font-size="41.0px" textLength="20.4" lengthAdjust="spacingAndGlyphs">z</tspan></text>
</svg></body></html>
